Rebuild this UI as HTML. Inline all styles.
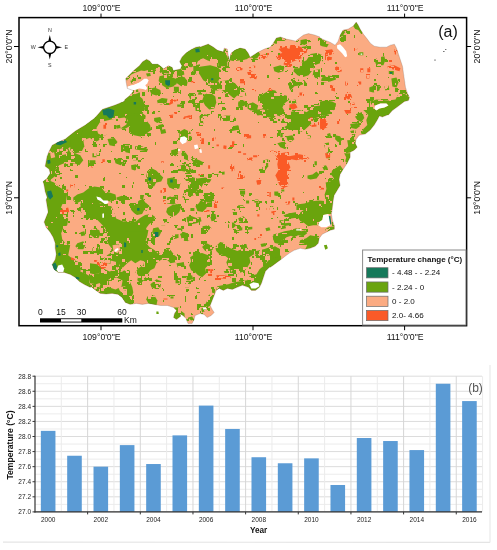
<!DOCTYPE html>
<html><head><meta charset="utf-8"><title>Temperature change</title>
<style>
html,body{margin:0;padding:0;background:#fff;}
svg{display:block;font-family:"Liberation Sans",sans-serif;}
</style></head><body>
<svg width="497" height="550" viewBox="0 0 497 550">
<rect width="497" height="550" fill="#fff"/>
<g id="map" shape-rendering="geometricPrecision">
<defs><clipPath id="isl"><polygon points="231.1,53.1 235.1,50.1 240.1,48.1 245.2,49.1 248.2,53.1 250.2,57.2 253.2,55.2 258.2,52.1 264.3,49.1 270.3,47.1 273.3,43.1 276.3,38.0 280.4,37.0 286.4,39.1 291.4,40.1 295.5,41.1 299.5,38.0 303.5,35.0 308.5,33.6 314.6,35.0 320.0,37.0 320.0,38.1 325.0,40.2 330.1,42.2 335.1,45.2 338.1,41.2 340.1,35.1 343.1,30.1 348.2,29.1 353.2,26.1 356.2,22.0 358.2,25.1 360.2,29.1 363.3,34.1 367.3,39.1 370.3,43.2 374.3,46.2 380.4,47.2 386.4,47.2 390.4,45.2 394.4,44.2 396.5,48.2 398.5,54.2 400.5,60.3 402.5,66.3 403.5,73.4 404.5,80.4 405.5,87.4 407.5,93.5 409.5,97.5 408.5,100.5 404.5,101.5 400.5,104.5 396.5,107.6 392.4,110.6 388.4,115.0 387.4,115.0 382.4,117.0 379.4,116.0 377.3,120.1 374.3,125.1 370.3,130.1 365.3,134.1 359.2,135.2 356.2,139.2 355.2,143.2 357.2,147.2 354.2,150.2 350.2,152.3 350.2,157.3 347.2,163.3 343.1,169.4 340.1,174.4 339.1,179.4 340.1,185.5 337.1,190.5 334.1,195.5 333.1,201.5 332.1,210.0 331.4,214.1 332.4,220.1 334.4,226.2 334.4,229.2 330.4,230.2 326.3,232.2 322.3,234.2 319.3,238.2 318.3,243.3 315.3,246.3 310.2,248.3 305.2,249.3 300.2,248.3 294.1,250.3 289.1,253.3 285.1,256.3 281.1,259.4 277.0,262.4 273.0,265.4 270.0,267.4 269.5,267.2 265.5,271.2 263.5,277.3 261.5,283.3 259.5,287.3 255.5,290.4 251.4,290.4 248.4,287.3 242.4,285.3 237.3,287.3 232.3,289.4 227.3,288.4 223.3,290.4 219.2,288.4 216.2,290.4 214.2,295.4 212.2,300.4 210.2,305.5 212.2,309.5 214.2,312.5 211.2,315.5 207.2,317.5 204.1,314.5 200.1,313.5 195.1,315.5 194.1,319.5 192.1,323.6 188.0,323.6 186.0,318.5 183.0,315.5 180.0,313.5 180.5,316.5 176.5,319.5 173.5,317.5 174.5,313.5 176.5,310.5 173.5,307.5 167.5,305.5 160.4,305.5 154.4,304.4 148.4,303.4 142.3,304.4 136.3,303.4 130.2,304.4 125.2,302.4 122.2,297.4 118.2,294.4 112.1,293.4 106.1,294.0 100.1,293.4 96.0,290.4 92.0,287.3 90.0,286.3 90.4,287.5 84.3,284.5 79.3,281.5 75.3,277.5 70.2,274.4 64.2,272.4 58.2,272.4 54.1,269.4 52.1,264.4 55.2,259.4 56.2,254.3 55.2,248.3 55.2,243.3 53.1,237.2 50.1,232.2 46.1,227.2 44.1,222.1 46.1,217.1 48.1,212.1 47.1,206.0 46.1,200.0 47.1,197.5 45.1,191.4 44.1,185.4 43.1,181.4 47.1,178.4 50.1,173.3 49.1,169.3 45.1,166.3 46.1,161.2 47.1,156.2 49.1,151.2 52.1,145.2 58.2,142.1 65.2,139.1 70.2,135.1 75.3,131.1 80.3,128.0 85.3,125.0 89.4,122.0 94.3,118.4 102.4,109.3 114.4,105.3 124.5,101.2 124.8,99.6 129.7,95.6 133.7,90.7 127.2,88.3 126.4,83.5 125.6,78.6 129.7,74.6 134.5,69.8 139.3,65.8 142.5,61.7 146.6,59.3 149.8,60.9 152.2,64.2 157.8,64.2 161.1,66.6 163.5,69.0 168.3,65.8 172.3,67.4 173.1,70.6 180.4,69.0 182.0,65.8 179.6,61.7 182.0,56.9 186.0,52.9 190.9,49.7 195.7,47.2 200.0,46.4 200.2,47.1 208.2,44.1 213.3,47.1 217.3,50.1 223.3,52.1 224.3,48.1 227.3,49.1 228.4,56.2 229.4,60.2"/></clipPath><filter id="soft" x="0" y="0" width="497" height="350" filterUnits="userSpaceOnUse"><feGaussianBlur stdDeviation="0.45"/></filter></defs>
<g filter="url(#soft)">
<polygon points="231.1,53.1 235.1,50.1 240.1,48.1 245.2,49.1 248.2,53.1 250.2,57.2 253.2,55.2 258.2,52.1 264.3,49.1 270.3,47.1 273.3,43.1 276.3,38.0 280.4,37.0 286.4,39.1 291.4,40.1 295.5,41.1 299.5,38.0 303.5,35.0 308.5,33.6 314.6,35.0 320.0,37.0 320.0,38.1 325.0,40.2 330.1,42.2 335.1,45.2 338.1,41.2 340.1,35.1 343.1,30.1 348.2,29.1 353.2,26.1 356.2,22.0 358.2,25.1 360.2,29.1 363.3,34.1 367.3,39.1 370.3,43.2 374.3,46.2 380.4,47.2 386.4,47.2 390.4,45.2 394.4,44.2 396.5,48.2 398.5,54.2 400.5,60.3 402.5,66.3 403.5,73.4 404.5,80.4 405.5,87.4 407.5,93.5 409.5,97.5 408.5,100.5 404.5,101.5 400.5,104.5 396.5,107.6 392.4,110.6 388.4,115.0 387.4,115.0 382.4,117.0 379.4,116.0 377.3,120.1 374.3,125.1 370.3,130.1 365.3,134.1 359.2,135.2 356.2,139.2 355.2,143.2 357.2,147.2 354.2,150.2 350.2,152.3 350.2,157.3 347.2,163.3 343.1,169.4 340.1,174.4 339.1,179.4 340.1,185.5 337.1,190.5 334.1,195.5 333.1,201.5 332.1,210.0 331.4,214.1 332.4,220.1 334.4,226.2 334.4,229.2 330.4,230.2 326.3,232.2 322.3,234.2 319.3,238.2 318.3,243.3 315.3,246.3 310.2,248.3 305.2,249.3 300.2,248.3 294.1,250.3 289.1,253.3 285.1,256.3 281.1,259.4 277.0,262.4 273.0,265.4 270.0,267.4 269.5,267.2 265.5,271.2 263.5,277.3 261.5,283.3 259.5,287.3 255.5,290.4 251.4,290.4 248.4,287.3 242.4,285.3 237.3,287.3 232.3,289.4 227.3,288.4 223.3,290.4 219.2,288.4 216.2,290.4 214.2,295.4 212.2,300.4 210.2,305.5 212.2,309.5 214.2,312.5 211.2,315.5 207.2,317.5 204.1,314.5 200.1,313.5 195.1,315.5 194.1,319.5 192.1,323.6 188.0,323.6 186.0,318.5 183.0,315.5 180.0,313.5 180.5,316.5 176.5,319.5 173.5,317.5 174.5,313.5 176.5,310.5 173.5,307.5 167.5,305.5 160.4,305.5 154.4,304.4 148.4,303.4 142.3,304.4 136.3,303.4 130.2,304.4 125.2,302.4 122.2,297.4 118.2,294.4 112.1,293.4 106.1,294.0 100.1,293.4 96.0,290.4 92.0,287.3 90.0,286.3 90.4,287.5 84.3,284.5 79.3,281.5 75.3,277.5 70.2,274.4 64.2,272.4 58.2,272.4 54.1,269.4 52.1,264.4 55.2,259.4 56.2,254.3 55.2,248.3 55.2,243.3 53.1,237.2 50.1,232.2 46.1,227.2 44.1,222.1 46.1,217.1 48.1,212.1 47.1,206.0 46.1,200.0 47.1,197.5 45.1,191.4 44.1,185.4 43.1,181.4 47.1,178.4 50.1,173.3 49.1,169.3 45.1,166.3 46.1,161.2 47.1,156.2 49.1,151.2 52.1,145.2 58.2,142.1 65.2,139.1 70.2,135.1 75.3,131.1 80.3,128.0 85.3,125.0 89.4,122.0 94.3,118.4 102.4,109.3 114.4,105.3 124.5,101.2 124.8,99.6 129.7,95.6 133.7,90.7 127.2,88.3 126.4,83.5 125.6,78.6 129.7,74.6 134.5,69.8 139.3,65.8 142.5,61.7 146.6,59.3 149.8,60.9 152.2,64.2 157.8,64.2 161.1,66.6 163.5,69.0 168.3,65.8 172.3,67.4 173.1,70.6 180.4,69.0 182.0,65.8 179.6,61.7 182.0,56.9 186.0,52.9 190.9,49.7 195.7,47.2 200.0,46.4 200.2,47.1 208.2,44.1 213.3,47.1 217.3,50.1 223.3,52.1 224.3,48.1 227.3,49.1 228.4,56.2 229.4,60.2" fill="#fbab82"/>
<g clip-path="url(#isl)">
<polygon points="220.0,51.1 224.0,49.1 227.0,52.1 226.0,58.2 229.1,60.2 224.0,63.2 220.0,62.2" fill="#6aa40f"/>
<polygon points="229.1,57.2 231.1,53.1 235.1,50.1 240.1,48.1 245.2,49.1 248.2,53.1 250.2,57.2 247.2,58.2 242.1,60.2 236.1,59.2 232.1,60.2" fill="#6aa40f"/>
<polygon points="252.2,56.2 258.2,52.1 260.2,54.1 257.2,58.2 253.2,59.2" fill="#6aa40f"/>
<polygon points="273.3,43.1 276.3,38.0 280.4,37.0 286.4,39.1 284.4,41.1 279.4,41.1 276.3,44.1" fill="#6aa40f"/>
<polygon points="273.3,67.2 280.4,65.2 284.4,67.2 283.4,71.2 278.4,72.7 274.3,71.2" fill="#6aa40f"/>
<polygon points="300.5,63.2 306.5,60.2 310.5,54.1 316.6,53.1 320.0,54.1 320.0,63.2 314.6,65.2 312.6,70.2 308.5,75.3 302.5,77.3 297.5,75.3 293.4,71.2 294.4,68.2 299.5,68.2" fill="#6aa40f"/>
<polygon points="313.6,70.2 320.0,69.2 320.0,77.3 315.6,78.3 312.6,75.3" fill="#6aa40f"/>
<polygon points="300.5,40.1 306.5,39.1 308.5,43.1 304.5,45.1 300.5,44.1" fill="#6aa40f"/>
<polygon points="301.5,47.1 306.5,46.1 307.5,50.1 302.5,50.1" fill="#6aa40f"/>
<polygon points="289.4,81.3 296.5,79.3 304.5,80.3 306.5,83.3 300.5,85.3 294.4,86.3 290.4,90.4 288.4,86.3" fill="#6aa40f"/>
<polygon points="220.0,81.3 228.0,80.3 235.1,83.3 238.1,87.3 243.1,90.4 246.2,93.4 242.1,96.4 237.1,95.4 234.1,98.4 229.1,94.4 227.0,90.4 222.0,90.4 220.0,88.4" fill="#6aa40f"/>
<polygon points="260.2,96.4 265.3,93.4 269.3,89.4 275.3,90.4 278.4,94.4 286.4,95.4 289.4,99.4 284.4,103.4 282.4,107.5 285.4,112.5 280.4,116.5 274.3,114.5 269.3,110.5 264.3,106.5 261.2,101.4" fill="#6aa40f"/>
<polygon points="247.2,104.4 253.2,102.4 258.2,105.5 257.2,109.5 263.3,109.5 270.3,111.5 276.3,115.5 273.3,118.5 265.3,116.5 259.2,114.5 255.2,111.5 250.2,109.5" fill="#6aa40f"/>
<polygon points="238.1,102.4 244.1,100.4 246.2,104.4 241.1,107.5 238.1,106.5" fill="#6aa40f"/>
<polygon points="282.4,116.5 289.4,112.5 296.5,114.5 299.5,110.5 306.5,112.5 312.6,106.5 320.0,105.5 320.0,116.5 314.6,118.5 310.5,124.6 304.5,130.0 288.4,130.0 289.4,123.6 284.4,120.5" fill="#6aa40f"/>
<polygon points="220.0,116.5 226.0,115.5 234.1,116.5 235.1,119.5 228.0,120.5 220.0,120.5" fill="#6aa40f"/>
<polygon points="230.1,126.6 238.1,125.6 239.1,130.0 230.1,130.0" fill="#6aa40f"/>
<polygon points="290.4,100.4 295.5,99.4 296.5,103.4 291.4,103.4" fill="#6aa40f"/>
<polygon points="353.2,26.1 356.2,22.0 358.2,25.1 360.2,29.1 363.3,34.1 361.2,34.1 358.2,30.1 355.2,29.1" fill="#6aa40f"/>
<polygon points="340.1,35.1 343.1,30.1 345.2,32.1 342.1,37.1" fill="#6aa40f"/>
<polygon points="320.0,39.1 325.0,40.8 329.1,43.2 327.0,47.2 322.0,46.2 320.0,45.2" fill="#6aa40f"/>
<polygon points="375.3,59.3 379.4,57.3 384.4,56.2 385.4,60.3 383.4,65.3 378.4,65.3 375.3,63.3" fill="#6aa40f"/>
<polygon points="322.0,77.4 328.0,75.4 335.1,76.4 336.1,79.4 330.1,81.4 324.0,82.4 321.0,80.4" fill="#6aa40f"/>
<polygon points="320.0,101.5 326.0,100.5 332.1,101.5 336.1,103.5 335.1,109.6 330.1,111.6 326.0,115.0 320.0,115.0" fill="#6aa40f"/>
<polygon points="391.4,78.4 396.5,77.4 398.5,82.4 396.5,87.4 392.4,86.4" fill="#6aa40f"/>
<polygon points="369.3,87.4 374.3,85.4 380.4,86.4 379.4,90.5 373.3,92.5 369.3,91.5" fill="#6aa40f"/>
<polygon points="397.5,95.5 404.5,93.5 409.5,97.5 408.5,100.5 404.5,101.5 400.5,104.5 396.5,107.6 392.4,110.6 388.4,115.0 370.3,115.0 371.3,109.6 374.3,108.6 376.3,110.6 379.4,108.6 384.4,107.6 388.4,105.5 386.4,103.5 380.4,103.5 375.3,105.5 371.3,104.5 370.3,101.5 376.3,99.5 388.4,100.5 395.5,99.5" fill="#6aa40f"/>
<polygon points="359.2,52.2 363.3,52.2 363.3,55.2 359.2,55.2" fill="#6aa40f"/>
<polygon points="320.0,54.2 323.0,55.2 323.0,61.3 320.0,61.3" fill="#6aa40f"/>
<polygon points="384.4,86.4 388.4,85.4 389.4,89.4 385.4,90.5" fill="#6aa40f"/>
<polygon points="388.8,70.9 393.8,70.9 393.8,74.8 388.8,74.8" fill="#6aa40f"/>
<polygon points="363.3,110.0 391.4,110.0 387.4,115.0 382.4,117.0 379.4,116.0 377.3,120.1 374.3,125.1 370.3,130.1 365.3,134.1 361.2,134.1 363.3,129.1 367.3,125.1 366.3,120.1 368.3,115.0" fill="#6aa40f"/>
<polygon points="356.2,114.0 362.3,112.0 364.3,118.0 361.2,122.1 357.2,120.1 355.2,117.0" fill="#6aa40f"/>
<polygon points="350.2,124.1 357.2,123.1 360.2,126.1 356.2,129.1 351.2,128.1" fill="#6aa40f"/>
<polygon points="347.2,140.2 355.2,139.8 356.2,143.2 357.2,147.2 354.2,150.2 350.2,152.3 346.2,153.3 345.2,149.2 348.2,146.2" fill="#6aa40f"/>
<polygon points="344.1,153.3 350.2,153.3 350.2,157.3 347.2,163.3 345.2,161.3 346.2,157.3" fill="#6aa40f"/>
<polygon points="335.1,168.4 340.1,165.3 343.1,169.4 340.1,174.4 339.1,179.4 340.1,185.5 337.1,190.5 334.1,195.5 333.1,201.5 332.1,210.0 320.0,210.0 322.0,204.6 326.0,199.5 327.0,190.5 326.0,184.4 330.1,181.4 334.1,178.4 331.1,174.4 332.1,170.4" fill="#6aa40f"/>
<polygon points="335.1,135.2 340.1,136.2 342.1,140.2 338.1,142.2 335.1,139.2" fill="#6aa40f"/>
<polygon points="324.0,144.2 328.0,143.2 329.1,147.2 325.0,148.2" fill="#6aa40f"/>
<polygon points="322.0,166.3 326.0,165.3 328.0,168.4 324.0,170.4" fill="#6aa40f"/>
<polygon points="320.0,110.0 330.1,110.0 329.1,114.0 324.0,116.0 320.0,115.0" fill="#6aa40f"/>
<polygon points="350.2,131.1 355.2,130.1 356.2,134.1 352.2,135.2" fill="#6aa40f"/>
<polygon points="327.0,134.1 330.1,133.1 331.1,136.2 328.0,137.2" fill="#6aa40f"/>
<polygon points="297.2,215.1 302.2,211.1 307.2,208.0 313.3,205.0 320.3,204.0 326.3,200.0 330.4,200.0 330.4,208.0 331.4,214.1 328.4,214.1 323.3,215.1 322.3,220.1 319.3,222.1 318.3,225.2 313.3,225.2 308.2,226.2 304.2,223.1 300.2,221.1 298.2,218.1" fill="#6aa40f"/>
<polygon points="285.1,215.1 290.1,213.1 297.2,215.1 298.2,218.1 294.1,218.1 289.1,217.1" fill="#6aa40f"/>
<polygon points="328.4,227.2 334.4,226.2 334.4,229.2 330.4,230.2 326.3,232.2 325.3,229.2" fill="#6aa40f"/>
<polygon points="300.2,240.2 306.2,238.2 310.2,235.2 315.3,236.2 319.3,238.2 318.3,243.3 315.3,246.3 310.2,248.3 305.2,249.3 307.2,245.3 303.2,243.3 299.2,243.3" fill="#6aa40f"/>
<polygon points="290.1,230.2 296.2,228.2 301.2,231.2 305.2,230.2 307.2,233.2 303.2,236.2 298.2,235.2 294.1,237.2 290.1,235.2" fill="#6aa40f"/>
<polygon points="273.0,237.2 278.0,234.2 282.1,237.2 281.1,241.2 277.0,243.3 274.0,241.2" fill="#6aa40f"/>
<polygon points="270.0,248.3 275.0,246.3 280.1,249.3 278.0,253.3 281.1,256.3 281.1,259.4 277.0,262.4 273.0,265.4 270.0,267.4" fill="#6aa40f"/>
<polygon points="309.2,200.0 313.3,200.0 313.3,204.0 309.2,205.0" fill="#6aa40f"/>
<polygon points="270.0,207.0 273.0,206.0 274.0,209.1 271.0,210.1" fill="#6aa40f"/>
<polygon points="280.1,226.2 285.1,225.2 286.1,228.2 281.1,229.2" fill="#6aa40f"/>
<polygon points="190.1,257.2 195.1,254.1 202.1,253.1 208.2,255.2 210.2,259.2 208.2,265.2 205.2,268.2 206.2,273.3 202.1,277.3 198.1,275.3 195.1,272.3 191.1,270.2 189.1,265.2 191.1,261.2" fill="#6aa40f"/>
<polygon points="215.2,247.1 220.2,242.1 224.3,243.1 227.3,247.1 232.3,249.1 237.3,251.1 244.4,248.1 249.4,250.1 256.5,251.1 264.5,249.1 270.5,247.1 276.6,248.1 280.0,249.1 280.0,256.2 274.6,258.2 270.5,255.2 264.5,256.2 259.5,256.2 254.4,254.1 249.4,257.2 250.4,262.2 247.4,267.2 244.4,271.2 238.4,273.3 233.3,271.2 228.3,267.2 226.3,262.2 228.3,258.2 224.3,255.2 219.2,254.1 216.2,251.1" fill="#6aa40f"/>
<polygon points="202.1,247.1 206.2,243.1 210.2,245.1 213.2,249.1 210.2,252.1 205.2,251.1" fill="#6aa40f"/>
<polygon points="216.2,290.4 219.2,288.4 223.3,290.4 227.3,288.4 232.3,289.4 237.3,287.3 242.4,285.3 248.4,287.3 251.4,290.4 255.5,290.4 259.5,287.3 261.5,283.3 263.5,277.3 265.5,271.2 269.5,267.2 274.6,263.2 280.0,259.2 280.0,256.2 274.6,258.2 268.5,260.2 264.5,265.2 259.5,269.2 256.5,274.3 249.4,276.3 247.4,280.3 240.4,281.3 234.3,282.3 228.3,284.3 222.3,285.3 217.2,286.3" fill="#6aa40f"/>
<polygon points="207.2,296.4 212.2,292.4 215.2,290.4 214.2,295.4 212.2,300.4 210.2,305.5 207.2,307.5 205.2,304.4 207.2,300.4" fill="#6aa40f"/>
<polygon points="201.1,308.5 205.2,307.5 206.2,310.5 202.1,312.5" fill="#6aa40f"/>
<polygon points="180.0,234.0 184.0,232.0 189.1,234.0 190.1,239.1 186.0,241.1 182.0,239.1" fill="#6aa40f"/>
<polygon points="272.6,236.0 280.0,234.0 280.0,244.1 274.6,243.1" fill="#6aa40f"/>
<polygon points="260.5,244.1 265.5,243.1 266.5,246.1 261.5,247.1" fill="#6aa40f"/>
<polygon points="242.4,244.1 246.4,244.1 247.4,248.1 243.4,249.1" fill="#6aa40f"/>
<polygon points="187.0,276.3 192.1,275.3 193.1,279.3 188.0,280.3" fill="#6aa40f"/>
<polygon points="180.0,311.5 183.0,315.5 180.0,316.5" fill="#6aa40f"/>
<polygon points="188.0,317.5 192.1,316.5 194.1,319.5 191.1,320.5" fill="#6aa40f"/>
<polygon points="185.0,283.3 189.1,282.7 189.1,287.3 185.0,287.3" fill="#6aa40f"/>
<polygon points="180.0,263.2 184.0,262.2 184.0,266.2 180.0,266.2" fill="#6aa40f"/>
<polygon points="223.3,270.2 230.3,269.2 232.3,273.3 225.3,274.3" fill="#6aa40f"/>
<polygon points="105.1,230.0 148.4,230.0 147.3,236.0 145.3,242.1 149.4,247.1 154.4,250.1 158.4,254.1 162.4,252.1 167.5,249.1 170.5,250.1 174.5,255.2 178.5,258.2 175.5,262.2 170.5,263.2 167.5,260.2 164.4,258.2 160.4,260.2 156.4,263.2 154.4,268.2 150.4,270.2 146.3,276.3 144.3,280.3 140.3,283.3 137.3,280.3 138.3,275.3 135.3,272.3 138.3,268.2 143.3,265.2 144.3,261.2 140.3,260.2 135.3,263.2 131.2,260.2 127.2,263.2 123.2,267.2 118.2,268.2 114.1,265.2 109.1,263.2 104.1,260.2 107.1,255.2 112.1,252.1 116.2,250.1 120.2,247.1 118.2,242.1 113.1,240.1 109.1,236.0" fill="#6aa40f"/>
<polygon points="90.0,265.2 94.0,266.2 98.0,270.2 102.1,273.3 107.1,275.3 112.1,273.3 116.2,276.3 120.2,273.3 124.2,270.2 128.2,273.3 127.2,278.3 130.2,282.3 132.3,287.3 133.3,292.4 131.2,298.4 130.2,304.4 125.2,302.4 122.2,297.4 118.2,294.4 112.1,293.4 106.1,294.0 100.1,293.4 96.0,290.4 92.0,287.3 90.0,286.3" fill="#6aa40f"/>
<polygon points="93.0,247.1 98.0,247.1 99.1,252.1 94.0,253.1" fill="#6aa40f"/>
<polygon points="150.4,284.3 156.4,279.3 161.4,281.3 160.4,287.3 154.4,288.4 151.4,287.3" fill="#6aa40f"/>
<polygon points="147.3,296.4 154.4,295.4 157.4,300.4 156.4,305.5 148.4,303.4 146.3,299.4" fill="#6aa40f"/>
<polygon points="174.5,235.0 178.5,234.0 178.5,238.0 174.5,238.0" fill="#6aa40f"/>
<polygon points="181.5,234.0 190.0,233.0 190.0,240.1 184.6,241.1 181.5,238.0" fill="#6aa40f"/>
<polygon points="175.5,279.3 179.5,279.3 179.5,283.3 175.5,283.3" fill="#6aa40f"/>
<polygon points="186.6,276.3 190.0,276.3 190.0,280.3 186.6,280.3" fill="#6aa40f"/>
<polygon points="173.5,307.5 176.5,310.5 174.5,313.5 173.5,317.5 176.5,319.5 180.5,316.5 184.6,319.5 184.6,313.5 180.5,310.5 178.5,307.5" fill="#6aa40f"/>
<polygon points="170.5,296.4 173.5,296.4 173.5,298.4 170.5,298.4" fill="#6aa40f"/>
<polygon points="90.0,230.0 96.0,230.0 97.0,234.0 93.0,236.0 90.0,235.0" fill="#6aa40f"/>
<polygon points="176.5,263.2 183.6,262.2 184.6,266.2 177.5,267.2" fill="#6aa40f"/>
<polygon points="46.1,200.0 62.2,200.0 60.2,205.0 58.2,209.1 60.2,213.1 65.2,215.1 68.2,219.1 67.2,225.2 63.2,228.2 61.2,233.2 62.2,239.2 65.2,243.3 70.2,245.3 69.2,250.3 68.2,255.3 73.3,259.4 79.3,262.4 80.3,267.4 84.3,269.4 90.4,267.4 96.4,269.4 98.4,275.5 100.4,280.5 99.4,286.5 96.4,291.5 90.4,287.5 84.3,284.5 79.3,281.5 75.3,277.5 70.2,274.4 64.2,272.4 58.2,272.4 54.1,269.4 52.1,264.4 55.2,259.4 56.2,254.3 55.2,248.3 55.2,243.3 53.1,237.2 50.1,232.2 46.1,227.2 44.1,222.1 46.1,217.1 48.1,212.1 47.1,206.0" fill="#6aa40f"/>
<polygon points="83.3,200.0 96.4,200.0 100.4,204.0 106.5,207.0 114.5,206.0 120.5,208.0 130.0,207.0 130.0,260.4 124.6,264.4 118.5,262.4 114.5,258.4 110.5,254.3 111.5,248.3 108.5,244.3 106.5,239.2 107.5,232.2 104.4,227.2 100.4,223.1 96.4,219.1 90.4,216.1 85.3,213.1 81.3,209.1 80.3,204.0" fill="#6aa40f"/>
<polygon points="90.4,230.2 94.4,228.2 99.4,230.2 100.4,234.2 98.4,238.2 93.4,237.2 90.4,234.2" fill="#6aa40f"/>
<polygon points="77.3,243.3 83.3,241.2 85.3,245.3 83.3,249.3 78.3,249.3 75.3,246.3" fill="#6aa40f"/>
<polygon points="92.4,248.3 97.4,247.3 99.4,251.3 96.4,253.3 92.4,252.3" fill="#6aa40f"/>
<polygon points="96.4,269.4 103.4,268.4 109.5,271.4 116.5,269.4 122.6,272.4 130.0,270.4 130.0,284.5 124.6,286.5 119.5,289.5 114.5,291.5 110.5,288.5 106.5,289.5 102.4,292.6 98.4,290.5 99.4,286.5 100.4,280.5 98.4,275.5" fill="#6aa40f"/>
<polygon points="104.4,257.3 110.5,256.3 114.5,258.4 113.5,262.4 107.5,263.4" fill="#6aa40f"/>
<polygon points="80.3,232.2 84.3,231.2 85.3,235.2 81.3,236.2" fill="#6aa40f"/>
<polygon points="118.5,291.5 130.0,288.5 130.0,300.0 120.5,300.0 118.5,296.6" fill="#6aa40f"/>
<polygon points="92.4,117.0 130.0,117.0 130.0,126.0 124.6,129.1 118.5,128.0 114.5,132.1 109.5,131.1 106.5,135.1 100.4,136.1 96.4,140.1 91.4,139.1 87.3,136.1 82.3,139.1 78.3,143.1 73.3,145.2 68.2,148.2 70.2,152.2 75.3,153.2 80.3,155.2 83.3,160.2 79.3,165.3 74.3,163.3 69.2,165.3 64.2,163.3 59.2,165.3 55.2,170.3 56.2,175.3 52.1,178.4 49.1,180.4 43.1,181.4 47.1,178.4 50.1,173.3 49.1,169.3 45.1,166.3 46.1,161.2 47.1,156.2 49.1,151.2 52.1,145.2 58.2,142.1 65.2,139.1 70.2,135.1 75.3,131.1 80.3,128.0 85.3,125.0 89.4,122.0" fill="#6aa40f"/>
<polygon points="43.1,181.4 49.1,180.4 54.1,182.4 58.2,186.4 63.2,189.4 67.2,193.4 66.2,200.5 62.2,204.5 60.2,209.5 63.2,214.6 62.2,220.0 46.1,220.0 48.1,214.6 49.1,208.5 49.1,202.5 47.1,197.5 45.1,191.4 44.1,185.4" fill="#6aa40f"/>
<polygon points="73.3,197.5 77.3,194.4 83.3,192.4 88.4,188.4 94.4,186.4 101.4,187.4 104.4,191.4 109.5,192.4 115.5,194.4 116.5,199.5 112.5,202.5 107.5,200.5 103.4,204.5 97.4,202.5 90.4,203.5 84.3,200.5 80.3,201.5 76.3,203.5 73.3,200.5" fill="#6aa40f"/>
<polygon points="80.3,206.5 88.4,204.5 98.4,206.5 105.5,205.5 112.5,206.5 114.5,211.5 109.5,214.6 102.4,216.6 99.4,220.0 83.3,220.0 84.3,214.6 80.3,211.5" fill="#6aa40f"/>
<polygon points="116.5,197.5 122.6,195.5 130.0,196.5 130.0,204.5 124.6,205.5 118.5,203.5" fill="#6aa40f"/>
<polygon points="107.5,139.1 114.5,138.1 117.5,142.1 114.5,146.2 109.5,145.2" fill="#6aa40f"/>
<polygon points="114.5,159.2 120.5,158.2 124.6,162.3 120.5,165.3 115.5,163.3" fill="#6aa40f"/>
<polygon points="122.6,146.2 130.0,145.2 130.0,153.2 125.6,152.2" fill="#6aa40f"/>
<polygon points="89.4,160.2 95.4,160.2 95.4,163.3 89.4,163.3" fill="#6aa40f"/>
<polygon points="92.4,153.2 96.4,153.2 96.4,157.2 92.4,157.2" fill="#6aa40f"/>
<polygon points="86.3,124.4 94.3,118.4 102.4,109.3 114.4,105.3 124.5,101.2 132.6,95.2 140.0,92.2 140.0,103.3 134.6,106.3 129.5,108.3 130.5,115.3 134.6,118.4 140.0,120.4 140.0,126.4 128.5,120.4 124.5,117.3 116.5,119.4 108.4,118.4 100.4,120.4 97.3,125.4 98.4,130.4 94.3,132.4 90.3,137.5 83.3,140.5 80.2,136.5 83.3,129.4" fill="#6aa40f"/>
<polygon points="125.6,78.6 129.7,74.6 134.5,69.8 139.3,65.8 142.5,61.7 146.6,59.3 149.8,60.9 152.2,64.2 157.8,64.2 161.1,66.6 163.5,69.0 168.3,65.8 172.3,67.4 173.1,70.6 180.4,69.0 183.6,70.6 184.4,74.6 179.6,76.2 175.6,74.6 171.5,73.0 168.3,72.2 163.5,71.4 160.3,73.0 158.6,70.6 154.6,69.0 151.4,70.6 149.0,73.0 145.8,74.6 144.2,77.8 141.7,80.3 137.7,81.9 136.1,78.6 132.9,77.0 129.7,78.6 127.2,81.1" fill="#6aa40f"/>
<polygon points="159.5,76.2 166.7,74.6 173.1,77.8 178.0,79.5 176.4,84.3 171.5,86.7 166.7,88.3 161.9,85.1 158.6,81.1" fill="#6aa40f"/>
<polygon points="180.4,77.8 184.4,77.0 187.6,81.9 186.8,85.9 182.0,85.1 179.6,81.9" fill="#6aa40f"/>
<polygon points="149.0,89.1 154.6,87.5 160.3,89.9 161.1,93.9 156.2,95.6 151.4,93.9" fill="#6aa40f"/>
<polygon points="173.9,86.7 178.8,86.7 178.8,91.5 173.9,91.5" fill="#6aa40f"/>
<polygon points="157.0,100.4 161.9,98.0 167.5,98.8 166.7,102.8 161.1,104.4 157.8,103.6" fill="#6aa40f"/>
<polygon points="120.0,102.0 124.8,99.6 129.7,95.6 133.7,93.9 138.5,95.6 142.5,98.8 144.2,103.6 145.0,109.2 142.5,113.3 145.8,115.7 145.0,120.0 120.0,120.0" fill="#6aa40f"/>
<polygon points="179.6,61.7 182.0,56.9 186.0,52.9 190.9,49.7 195.7,47.2 200.0,46.4 200.0,60.1 196.5,61.7 192.5,64.2 189.2,62.5 186.0,64.2 183.6,68.2 180.4,69.0 182.0,65.8" fill="#6aa40f"/>
<polygon points="193.3,65.8 200.0,64.2 200.0,72.2 196.5,74.6 193.3,72.2" fill="#6aa40f"/>
<polygon points="189.2,93.9 193.3,93.9 193.3,97.2 189.2,97.2" fill="#6aa40f"/>
<polygon points="194.9,104.4 200.0,103.6 200.0,110.9 195.7,110.9" fill="#6aa40f"/>
<polygon points="177.2,104.4 182.0,104.4 182.0,106.8 177.2,106.8" fill="#6aa40f"/>
<polygon points="127.2,83.5 132.1,82.2 135.3,83.2 129.7,85.9" fill="#6aa40f"/>
<polygon points="130.0,116.0 136.0,115.0 143.1,116.0 146.1,120.1 150.1,125.1 151.1,130.1 147.1,133.1 144.1,137.2 139.1,136.2 134.0,135.2 130.0,132.1" fill="#6aa40f"/>
<polygon points="130.0,110.0 144.1,110.0 142.1,113.0 135.0,114.0 130.0,113.0" fill="#6aa40f"/>
<polygon points="154.1,118.0 160.2,117.0 162.2,121.1 157.2,123.1 154.1,121.1" fill="#6aa40f"/>
<polygon points="160.2,130.1 165.2,129.1 166.2,133.1 161.2,134.1" fill="#6aa40f"/>
<polygon points="179.3,132.1 184.3,129.1 190.4,132.1 191.4,137.2 187.3,140.2 182.3,141.2 179.3,138.2" fill="#6aa40f"/>
<polygon points="171.2,150.2 175.3,149.2 178.3,153.3 175.3,156.3 171.2,154.3" fill="#6aa40f"/>
<polygon points="181.3,153.3 185.3,152.3 188.4,156.3 194.4,158.3 199.4,160.3 203.4,162.3 202.4,165.3 197.4,164.3 192.4,161.3 187.3,160.3 182.3,158.3" fill="#6aa40f"/>
<polygon points="178.3,166.3 184.3,164.3 189.4,167.3 192.4,170.4 189.4,173.4 184.3,171.4 179.3,170.4" fill="#6aa40f"/>
<polygon points="147.1,172.4 152.1,168.4 156.2,170.4 160.2,174.4 163.2,177.4 161.2,181.4 156.2,182.4 154.1,186.5 150.1,185.5 148.1,180.4 146.1,176.4" fill="#6aa40f"/>
<polygon points="167.2,178.4 172.3,177.4 177.3,179.4 180.3,183.4 179.3,188.5 174.3,189.5 169.2,187.5 167.2,183.4" fill="#6aa40f"/>
<polygon points="184.3,177.4 190.4,176.4 197.4,178.4 205.5,177.4 211.5,179.4 209.5,182.4 203.4,183.4 201.4,187.5 197.4,189.5 195.4,194.5 190.4,196.5 186.3,193.5 188.4,188.5 190.4,183.4 186.3,181.4" fill="#6aa40f"/>
<polygon points="132.0,210.0 135.0,204.6 139.1,200.5 143.1,198.5 145.1,202.6 149.1,205.6 150.1,210.0" fill="#6aa40f"/>
<polygon points="205.5,196.5 209.5,194.5 212.5,197.5 211.5,201.5 207.5,202.6 204.8,200.1" fill="#6aa40f"/>
<polygon points="164.2,198.5 170.2,196.5 175.3,198.5 177.3,202.6 173.3,204.6 167.2,203.6" fill="#6aa40f"/>
<polygon points="131.0,165.3 136.0,164.3 139.1,167.3 135.0,170.4 131.6,169.4" fill="#6aa40f"/>
<polygon points="135.0,146.2 142.1,146.2 148.1,149.2 147.1,151.2 140.1,150.2 135.0,149.2" fill="#6aa40f"/>
<polygon points="200.4,200.5 205.5,202.6 206.5,207.6 202.4,210.0 197.4,210.0 198.4,204.6" fill="#6aa40f"/>
<polygon points="133.0,157.3 138.0,157.3 138.0,160.3 133.0,160.3" fill="#6aa40f"/>
<polygon points="221.5,116.0 230.0,116.0 230.0,120.1 222.6,121.1" fill="#6aa40f"/>
<polygon points="218.5,172.4 224.6,171.4 224.6,174.4 218.5,174.8" fill="#6aa40f"/>
<polygon points="183.3,193.5 189.4,194.5 188.4,198.5 182.3,197.5" fill="#6aa40f"/>
<polygon points="199.4,116.0 202.4,116.0 203.4,124.1 200.4,125.1" fill="#6aa40f"/>
<polygon points="202.4,114.0 208.5,115.0 207.5,117.0 202.4,117.0" fill="#6aa40f"/>
<polygon points="158.2,125.1 163.2,124.1 163.2,127.1 158.2,127.7" fill="#6aa40f"/>
<polygon points="254.1,110.0 270.2,110.0 276.3,112.0 283.3,113.0 290.4,112.0 298.4,110.0 306.5,112.0 310.5,116.0 307.5,121.1 305.5,128.1 301.4,132.1 297.4,129.1 292.4,127.1 287.3,130.1 284.3,127.1 289.4,124.1 290.4,119.1 286.3,116.0 280.3,115.0 273.3,114.0 266.2,115.0 260.2,114.0 255.2,113.0" fill="#6aa40f"/>
<polygon points="312.5,110.0 330.0,110.0 330.0,114.0 322.6,115.0 316.5,114.0" fill="#6aa40f"/>
<polygon points="277.3,143.2 284.3,141.2 287.3,145.2 285.3,149.2 280.3,147.2" fill="#6aa40f"/>
<polygon points="286.3,136.2 292.4,135.2 294.4,139.2 290.4,142.2 287.3,140.2" fill="#6aa40f"/>
<polygon points="263.2,160.3 268.2,159.3 268.2,166.3 265.2,170.4 262.2,168.4" fill="#6aa40f"/>
<polygon points="307.5,175.4 312.5,174.4 316.5,171.4 319.5,174.4 316.5,178.4 310.5,179.4 307.5,178.4" fill="#6aa40f"/>
<polygon points="325.6,182.4 330.0,181.4 330.0,202.6 325.6,201.5 324.6,194.5 326.6,188.5" fill="#6aa40f"/>
<polygon points="296.4,204.6 304.4,203.6 310.5,201.5 318.5,200.5 330.0,201.5 330.0,210.0 296.4,210.0" fill="#6aa40f"/>
<polygon points="240.1,190.5 245.1,190.5 245.1,194.5 240.1,194.5" fill="#6aa40f"/>
<polygon points="231.0,127.1 236.0,126.1 237.0,130.1 232.0,131.1" fill="#6aa40f"/>
<polygon points="274.3,191.5 278.3,191.5 278.3,195.5 274.3,195.5" fill="#6aa40f"/>
<polygon points="324.6,143.2 330.0,142.2 330.0,147.2 325.6,147.2" fill="#6aa40f"/>
<polygon points="326.6,152.3 330.0,152.3 330.0,158.3 326.6,158.3" fill="#6aa40f"/>
<polygon points="281.3,189.5 284.3,189.5 284.3,191.5 281.3,191.5" fill="#6aa40f"/>
<polygon points="255.2,199.5 258.2,199.5 258.2,202.6 255.2,202.6" fill="#6aa40f"/>
<polygon points="246.1,200.5 249.1,200.5 249.1,203.6 246.1,203.6" fill="#6aa40f"/>
<polygon points="314.5,161.3 316.9,161.3 316.9,165.3 314.5,165.3" fill="#6aa40f"/>
<polygon points="307.5,135.2 310.5,135.2 310.5,138.2 307.5,138.2" fill="#6aa40f"/>
<polygon points="280.3,133.1 282.7,133.1 282.7,137.2 280.3,137.2" fill="#6aa40f"/>
<polygon points="125.0,223.2 130.0,222.2 136.1,221.2 140.1,218.1 145.1,215.1 151.2,214.1 155.2,217.1 153.2,221.2 149.1,224.2 146.1,228.2 147.1,231.2 125.0,231.2" fill="#6aa40f"/>
<polygon points="131.0,207.1 137.1,204.1 143.1,201.0 147.1,204.1 150.2,208.1 147.1,211.1 144.1,210.1 142.1,214.1 137.1,215.1 133.0,213.1 131.0,210.1" fill="#6aa40f"/>
<polygon points="167.3,208.1 172.3,205.1 177.3,204.1 181.3,207.1 179.3,212.1 176.3,215.1 172.3,217.1 168.3,215.1 166.2,212.1" fill="#6aa40f"/>
<polygon points="153.2,228.2 158.2,227.2 161.2,232.2 159.2,236.2 154.2,236.2 152.2,232.2" fill="#6aa40f"/>
<polygon points="186.4,217.1 191.4,216.1 196.4,218.1 200.5,217.1 201.5,221.2 196.4,223.2 191.4,224.2 187.4,222.2" fill="#6aa40f"/>
<polygon points="195.4,206.1 200.5,202.0 205.5,203.0 206.5,208.1 202.5,212.1 197.4,211.1" fill="#6aa40f"/>
<polygon points="205.5,197.0 210.5,195.0 213.5,199.0 210.5,203.0 206.5,202.0" fill="#6aa40f"/>
<polygon points="209.5,214.1 215.5,214.1 216.5,220.2 211.5,221.2" fill="#6aa40f"/>
<polygon points="202.5,226.2 208.5,225.2 211.5,228.2 206.5,231.2 202.5,230.2" fill="#6aa40f"/>
<polygon points="181.3,234.2 187.4,233.2 190.4,238.3 187.4,241.3 182.3,239.3" fill="#6aa40f"/>
<polygon points="177.3,228.2 182.3,228.2 182.3,231.2 177.3,231.2" fill="#6aa40f"/>
<polygon points="172.3,235.2 176.3,234.2 177.3,238.3 173.3,239.3" fill="#6aa40f"/>
<polygon points="125.0,200.0 128.0,200.0 128.0,205.1 125.0,205.1" fill="#6aa40f"/>
<polygon points="140.1,195.0 144.1,195.0 143.1,199.0 140.1,199.0" fill="#6aa40f"/>
<polygon points="168.3,198.0 176.3,196.0 177.3,199.0 170.3,201.0" fill="#6aa40f"/>
<polygon points="190.4,208.1 194.4,208.1 194.4,211.1 190.4,211.1" fill="#6aa40f"/>
<polygon points="161.2,222.2 165.2,222.2 165.2,225.2 161.2,225.2" fill="#6aa40f"/>
<polygon points="238.2,218.2 243.3,216.2 246.3,219.2 243.3,222.3 239.2,221.2" fill="#6aa40f"/>
<polygon points="228.2,224.3 233.2,222.3 236.2,225.3 233.2,228.3 229.2,227.3" fill="#6aa40f"/>
<polygon points="265.4,228.3 269.4,227.3 270.4,230.3 266.4,231.3" fill="#6aa40f"/>
<polygon points="273.4,234.3 278.5,233.3 284.5,231.3 290.5,230.3 300.0,228.3 300.0,234.3 292.6,235.3 286.5,237.3 282.5,240.4 277.5,242.4 273.4,239.4" fill="#6aa40f"/>
<polygon points="237.2,228.3 242.3,227.3 242.3,230.3 237.2,231.3" fill="#6aa40f"/>
<polygon points="246.3,227.3 252.3,226.7 252.3,229.3 246.3,229.9" fill="#6aa40f"/>
<polygon points="240.2,191.1 244.3,191.1 244.3,194.5 240.2,194.5" fill="#6aa40f"/>
<polygon points="232.2,209.2 235.2,209.2 235.2,212.2 232.2,212.2" fill="#6aa40f"/>
<polygon points="238.2,205.2 243.3,205.2 243.3,207.2 238.2,207.2" fill="#6aa40f"/>
<polygon points="283.5,215.2 289.5,213.2 295.6,212.2 300.0,213.2 300.0,217.2 292.6,218.2 286.5,219.2" fill="#6aa40f"/>
<polygon points="279.5,220.2 283.5,220.2 283.5,222.7 279.5,222.7" fill="#6aa40f"/>
<polygon points="284.5,223.3 289.5,222.7 289.5,225.3 284.5,225.9" fill="#6aa40f"/>
<polygon points="254.3,200.1 258.4,200.1 258.4,202.5 254.3,202.5" fill="#6aa40f"/>
<polygon points="275.5,193.1 278.1,193.1 278.1,195.7 275.5,195.7" fill="#6aa40f"/>
<polygon points="109.1,279.3 116.2,278.3 121.2,281.3 120.2,286.3 114.1,288.4 110.1,285.3" fill="#fbab82"/>
<polygon points="118.2,287.3 125.2,286.3 126.2,290.4 120.2,291.4" fill="#fbab82"/>
<polygon points="112.5,245.3 118.5,244.3 120.5,249.3 117.5,253.3 113.5,251.3" fill="#fbab82"/>
<polygon points="59.2,149.2 65.2,147.2 68.2,150.2 66.2,154.2 61.2,155.2" fill="#fbab82"/>
<polygon points="50.1,153.2 54.1,152.2 55.2,157.2 51.1,158.2" fill="#fbab82"/>
<polygon points="278.4,49.1 284.4,47.1 289.4,49.1 290.4,45.1 296.5,45.1 302.5,48.1 307.5,49.1 306.5,53.1 300.5,54.1 301.5,58.2 296.5,60.2 291.4,62.2 287.4,66.2 283.4,64.2 285.4,60.2 280.4,59.2 276.3,57.2 278.4,54.1 282.4,53.1" fill="#fa5a28"/>
<polygon points="260.2,55.2 267.3,54.1 267.3,57.2 261.2,57.8" fill="#fa5a28"/>
<polygon points="237.1,67.2 242.1,67.2 242.1,70.2 238.1,70.2" fill="#fa5a28"/>
<polygon points="247.2,72.3 252.2,71.2 253.2,75.3 257.2,76.3 256.2,79.3 250.2,78.3 248.2,75.3" fill="#fa5a28"/>
<polygon points="249.2,66.2 255.2,65.8 255.2,67.8 249.2,68.2" fill="#fa5a28"/>
<polygon points="289.4,104.4 295.5,103.4 297.5,107.5 293.4,109.5 289.4,108.5" fill="#fa5a28"/>
<polygon points="240.1,81.3 244.1,81.3 244.1,83.3 240.1,83.3" fill="#fa5a28"/>
<polygon points="268.3,89.4 272.3,89.4 272.3,91.0 268.3,91.0" fill="#fa5a28"/>
<polygon points="299.5,92.4 302.5,92.4 302.5,95.4 299.5,95.4" fill="#fa5a28"/>
<polygon points="308.5,118.5 311.5,117.5 312.6,120.5 309.5,121.5" fill="#fa5a28"/>
<polygon points="325.0,50.2 332.1,49.2 334.1,53.2 330.1,55.2 326.0,54.2" fill="#fa5a28"/>
<polygon points="327.0,56.2 332.1,57.3 331.1,61.3 327.0,60.3" fill="#fa5a28"/>
<polygon points="335.1,66.3 340.1,67.3 342.1,71.3 338.1,72.3 335.1,69.3" fill="#fa5a28"/>
<polygon points="387.4,66.3 394.4,65.3 400.5,68.3 399.5,71.3 392.4,69.3 388.4,70.3" fill="#fa5a28"/>
<polygon points="394.4,49.2 397.5,50.2 397.5,55.2 394.8,54.2" fill="#fa5a28"/>
<polygon points="345.2,94.5 350.2,92.5 352.2,97.5 348.2,99.5 345.2,97.5" fill="#fa5a28"/>
<polygon points="332.1,85.4 336.1,86.4 335.1,91.5 331.1,90.5" fill="#fa5a28"/>
<polygon points="355.2,45.2 357.2,45.2 357.2,49.2 355.2,49.2" fill="#fa5a28"/>
<polygon points="360.2,68.3 363.3,68.3 363.3,72.3 360.2,72.3" fill="#fa5a28"/>
<polygon points="367.3,68.3 370.3,68.3 370.3,72.3 367.3,72.3" fill="#fa5a28"/>
<polygon points="358.2,81.4 361.2,81.4 361.2,84.4 358.2,84.4" fill="#fa5a28"/>
<polygon points="345.2,81.4 347.2,81.4 347.2,85.4 345.2,85.4" fill="#fa5a28"/>
<polygon points="366.3,75.4 369.3,75.4 369.3,78.4 366.3,78.4" fill="#fa5a28"/>
<polygon points="389.4,61.3 390.8,61.3 390.8,64.3 389.4,64.3" fill="#fa5a28"/>
<polygon points="350.2,103.5 354.2,102.5 355.2,106.5 351.2,107.6" fill="#fa5a28"/>
<polygon points="320.0,118.0 325.0,119.1 328.0,124.1 325.0,128.1 321.0,130.1 320.0,128.1" fill="#fa5a28"/>
<polygon points="344.1,110.0 350.2,110.0 351.2,113.0 346.2,114.0" fill="#fa5a28"/>
<polygon points="325.0,153.3 330.1,153.3 330.1,157.3 326.0,158.3" fill="#fa5a28"/>
<polygon points="320.0,187.5 324.0,188.1 324.0,189.5 320.0,189.5" fill="#fa5a28"/>
<polygon points="337.1,121.1 339.1,121.1 339.1,124.1 337.1,124.1" fill="#fa5a28"/>
<polygon points="285.1,202.0 290.1,201.0 290.1,203.0 286.1,204.0" fill="#fa5a28"/>
<polygon points="273.0,212.1 274.4,212.1 274.4,215.1 273.0,215.1" fill="#fa5a28"/>
<polygon points="216.2,275.3 223.3,275.3 230.3,276.3 231.3,279.3 224.3,278.7 217.2,277.9" fill="#fa5a28"/>
<polygon points="210.2,269.2 213.2,269.2 213.2,273.3 210.2,273.3" fill="#fa5a28"/>
<polygon points="254.4,238.0 256.1,238.0 256.1,240.1 254.4,240.1" fill="#fa5a28"/>
<polygon points="259.5,236.0 261.1,236.0 261.1,237.6 259.5,237.6" fill="#fa5a28"/>
<polygon points="100.1,263.2 105.1,262.2 106.1,267.2 102.1,269.2 99.7,267.2" fill="#fa5a28"/>
<polygon points="163.4,298.4 167.5,298.4 167.5,299.6 163.4,299.6" fill="#fa5a28"/>
<polygon points="94.0,260.2 96.0,260.2 96.0,261.8 94.0,261.8" fill="#fa5a28"/>
<polygon points="60.2,209.1 67.2,208.0 69.2,212.1 64.2,214.1 60.2,213.1" fill="#fa5a28"/>
<polygon points="99.4,263.4 103.4,262.4 105.5,267.4 101.4,269.4 99.4,266.4" fill="#fa5a28"/>
<polygon points="71.2,257.3 74.3,258.4 73.3,260.4 70.8,259.4" fill="#fa5a28"/>
<polygon points="94.4,259.4 97.4,260.4 96.4,262.0 94.0,261.0" fill="#fa5a28"/>
<polygon points="60.2,209.5 68.2,207.5 69.2,211.5 63.2,214.6 60.2,213.6" fill="#fa5a28"/>
<polygon points="70.2,184.4 74.3,184.0 74.3,187.4 70.2,187.4" fill="#fa5a28"/>
<polygon points="103.4,126.0 106.5,126.0 106.5,129.1 103.4,129.1" fill="#fa5a28"/>
<polygon points="102.4,159.2 104.8,159.2 104.8,161.9 102.4,161.9" fill="#fa5a28"/>
<polygon points="66.2,189.4 68.2,189.4 68.2,191.4 66.2,191.4" fill="#fa5a28"/>
<polygon points="91.4,165.9 93.0,165.9 93.0,167.5 91.4,167.5" fill="#fa5a28"/>
<polygon points="102.4,125.4 106.4,125.4 106.4,126.4 105.0,126.4 105.0,129.4 103.8,129.4 103.8,126.4 102.4,126.4" fill="#fa5a28"/>
<polygon points="168.3,103.6 173.1,101.2 173.9,102.8 169.1,105.2" fill="#fa5a28"/>
<polygon points="173.9,100.4 176.4,99.6 176.7,100.9 174.4,101.7" fill="#fa5a28"/>
<polygon points="190.9,81.1 193.3,81.1 193.3,82.2 190.9,82.2" fill="#fa5a28"/>
<polygon points="187.6,115.7 190.9,115.4 190.9,116.7 187.6,117.0" fill="#fa5a28"/>
<polygon points="169.9,114.9 173.1,114.4 173.1,115.7 169.9,116.0" fill="#fa5a28"/>
<polygon points="201.4,138.2 204.0,138.2 204.0,142.2 201.4,142.2" fill="#fa5a28"/>
<polygon points="223.6,145.2 226.6,145.8 226.2,149.2 223.2,148.6" fill="#fa5a28"/>
<polygon points="216.5,144.6 218.9,144.6 218.9,146.2 216.5,146.2" fill="#fa5a28"/>
<polygon points="196.0,132.1 199.4,132.1 199.4,133.5 196.0,133.5" fill="#fa5a28"/>
<polygon points="187.3,116.0 190.4,116.0 190.4,117.4 187.3,117.4" fill="#fa5a28"/>
<polygon points="183.3,117.6 185.3,117.6 185.3,119.1 183.3,119.1" fill="#fa5a28"/>
<polygon points="160.2,190.5 164.2,189.5 164.6,192.5 160.6,192.9" fill="#fa5a28"/>
<polygon points="208.1,165.3 210.1,165.3 210.1,168.8 208.1,168.8" fill="#fa5a28"/>
<polygon points="212.5,201.5 215.5,200.5 216.5,205.6 212.9,206.2" fill="#fa5a28"/>
<polygon points="198.4,174.0 203.4,174.0 203.4,175.4 198.4,175.4" fill="#fa5a28"/>
<polygon points="161.2,161.3 163.8,161.3 163.8,162.7 161.2,162.7" fill="#fa5a28"/>
<polygon points="173.3,112.0 175.9,112.0 175.9,113.6 173.3,113.6" fill="#fa5a28"/>
<polygon points="213.5,137.2 215.5,137.2 215.5,139.2 213.5,139.2" fill="#fa5a28"/>
<polygon points="221.5,187.5 224.2,187.5 224.2,188.9 221.5,188.9" fill="#fa5a28"/>
<polygon points="271.2,150.2 275.3,151.2 280.3,153.3 286.3,152.3 289.4,156.3 294.4,155.3 299.4,154.3 304.4,155.3 309.5,158.3 305.5,160.3 300.4,159.3 296.4,160.3 291.4,159.3 288.4,162.3 290.4,167.3 287.3,172.4 288.4,178.4 285.3,181.4 287.3,186.5 283.3,187.5 279.3,184.4 277.3,179.4 275.3,175.4 278.3,170.4 277.3,164.3 278.3,159.3 275.3,155.3" fill="#fa5a28"/>
<polygon points="245.1,135.2 251.1,135.2 251.1,138.2 246.1,138.6" fill="#fa5a28"/>
<polygon points="247.1,158.3 252.1,157.3 253.1,160.3 248.1,161.3" fill="#fa5a28"/>
<polygon points="238.0,173.4 243.1,173.4 245.1,177.4 240.1,178.4 238.0,176.4" fill="#fa5a28"/>
<polygon points="231.0,164.3 234.0,163.9 234.4,170.4 231.6,171.4" fill="#fa5a28"/>
<polygon points="309.5,118.0 312.5,117.0 312.5,120.1 309.5,120.5" fill="#fa5a28"/>
<polygon points="311.5,125.1 316.5,124.5 316.5,126.5 311.5,127.1" fill="#fa5a28"/>
<polygon points="321.5,123.1 325.6,122.1 327.6,127.1 323.6,129.1 321.5,126.1" fill="#fa5a28"/>
<polygon points="322.6,118.0 325.6,118.0 325.6,120.5 322.6,120.5" fill="#fa5a28"/>
<polygon points="232.0,141.2 234.4,141.2 234.4,145.2 232.0,145.2" fill="#fa5a28"/>
<polygon points="256.2,180.4 260.2,180.4 261.2,184.4 257.2,184.8" fill="#fa5a28"/>
<polygon points="253.1,155.3 257.2,155.3 257.2,157.3 253.1,157.3" fill="#fa5a28"/>
<polygon points="263.2,136.2 266.2,136.2 266.2,137.8 263.2,137.8" fill="#fa5a28"/>
<polygon points="238.0,151.2 241.1,151.2 241.1,152.9 238.0,152.9" fill="#fa5a28"/>
<polygon points="243.1,153.3 246.1,153.3 246.1,154.7 243.1,154.7" fill="#fa5a28"/>
<polygon points="286.3,202.6 289.4,202.6 289.4,204.6 286.3,204.6" fill="#fa5a28"/>
<polygon points="292.4,197.5 294.4,197.5 294.4,200.5 292.4,200.5" fill="#fa5a28"/>
<polygon points="213.5,202.0 216.5,202.0 217.2,208.1 214.1,208.1" fill="#fa5a28"/>
<polygon points="163.2,200.0 165.2,200.0 165.2,202.0 163.2,202.0" fill="#fa5a28"/>
<polygon points="206.5,210.1 209.5,210.1 209.5,211.5 206.5,211.5" fill="#fa5a28"/>
<polygon points="257.3,214.2 259.4,214.2 259.4,216.6 257.3,216.6" fill="#fa5a28"/>
<polygon points="269.4,192.1 270.8,192.1 270.8,197.1 269.4,197.1" fill="#fa5a28"/>
<polygon points="271.4,211.2 273.4,211.2 273.4,213.2 271.4,213.2" fill="#fa5a28"/>
<polygon points="266.4,208.2 269.4,208.2 269.4,209.8 266.4,209.8" fill="#fa5a28"/>
<polygon points="257.3,180.0 261.4,180.0 260.4,184.0 257.9,184.0" fill="#fa5a28"/>
<polygon points="277.5,180.0 287.5,180.0 288.5,186.0 283.5,188.0 279.5,185.0" fill="#fa5a28"/>
<polygon points="390.0,71.9 392.4,71.9 392.4,73.8 390.0,73.8" fill="#15795a"/>
<polygon points="328.4,216.1 330.4,216.1 331.4,224.1 329.4,225.2" fill="#15795a"/>
<polygon points="154.4,232.0 158.4,232.0 158.4,237.0 154.4,237.0" fill="#15795a"/>
<polygon points="124.6,243.1 126.2,243.1 126.2,247.1 124.6,247.1" fill="#15795a"/>
<polygon points="141.3,250.1 142.7,250.1 142.7,253.1 141.3,253.1" fill="#15795a"/>
<polygon points="52.1,264.4 55.2,262.4 57.2,266.4 56.2,271.4 53.1,269.4" fill="#15795a"/>
<polygon points="58.2,253.3 60.2,252.3 60.6,255.3 58.6,255.9" fill="#15795a"/>
<polygon points="75.3,276.5 79.3,277.5 79.3,279.5 75.9,278.9" fill="#15795a"/>
<polygon points="124.2,242.3 125.4,242.3 125.4,247.3 124.2,247.3" fill="#15795a"/>
<polygon points="56.2,245.3 58.2,245.3 58.2,247.3 56.2,247.3" fill="#15795a"/>
<polygon points="56.2,142.1 65.2,140.1 67.2,142.1 60.2,145.2 56.2,144.5" fill="#15795a"/>
<polygon points="47.1,160.2 50.1,159.8 50.5,163.3 47.7,163.9" fill="#15795a"/>
<polygon points="47.1,191.4 51.1,190.4 53.1,196.5 50.1,199.5 47.7,196.5" fill="#15795a"/>
<polygon points="102.4,110.3 108.4,108.3 114.4,110.3 113.4,117.3 109.4,118.4 106.4,115.3 103.4,115.3" fill="#15795a"/>
<polygon points="165.1,80.3 170.7,80.3 171.2,84.3 168.3,85.9 165.4,84.3" fill="#15795a"/>
<polygon points="133.7,102.0 136.1,102.0 136.1,104.4 133.7,104.4" fill="#15795a"/>
<polygon points="196.5,51.3 198.9,50.5 199.2,53.7 197.0,54.2" fill="#15795a"/>
<polygon points="148.5,177.4 151.1,177.4 151.1,180.4 148.5,180.4" fill="#15795a"/>
<polygon points="170.2,179.4 172.7,179.4 172.7,182.4 170.2,182.4" fill="#15795a"/>
<polygon points="155.2,232.2 157.2,232.2 157.2,236.2 155.2,236.2" fill="#15795a"/>
<polygon points="137.1,208.1 139.5,208.1 139.5,210.7 137.1,210.7" fill="#15795a"/>
<polygon points="337.1,45.2 340.1,44.2 343.1,47.2 346.2,51.2 347.2,56.2 345.2,57.3 342.1,53.2 339.1,50.2 337.1,48.2" fill="#ffffff"/>
<polygon points="375.3,105.5 380.4,103.5 386.4,103.5 388.4,105.5 384.4,107.6 379.4,108.6 376.3,110.6 374.3,108.6" fill="#ffffff"/>
<polygon points="360.6,53.6 362.3,53.6 362.3,54.8 360.6,54.8" fill="#ffffff"/>
<polygon points="323.3,215.1 328.4,214.1 329.4,220.1 330.4,225.2 326.3,227.2 321.3,227.2 318.3,225.2 319.3,222.1 322.3,220.1" fill="#ffffff"/>
<polygon points="296.2,229.2 301.2,229.2 301.2,230.6 296.2,230.6" fill="#ffffff"/>
<polygon points="249.4,284.3 253.4,282.3 258.5,283.3 259.5,286.3 255.5,288.4 251.4,288.4" fill="#ffffff"/>
<polygon points="203.1,307.5 206.2,307.5 206.2,309.5 203.1,309.5" fill="#ffffff"/>
<polygon points="115.2,249.1 118.2,248.1 118.6,250.1 115.8,251.1" fill="#ffffff"/>
<polygon points="58.2,265.4 62.2,264.4 64.2,268.4 63.2,272.4 58.2,272.4 56.6,269.4" fill="#ffffff"/>
<polygon points="102.4,213.7 103.6,213.7 103.6,217.7 102.4,217.7" fill="#ffffff"/>
<polygon points="114.5,249.9 116.9,249.3 117.3,251.3 114.9,251.9" fill="#ffffff"/>
<polygon points="96.4,196.5 100.4,197.5 103.4,200.5 107.5,200.5 108.5,202.5 105.5,204.5 101.4,201.5 97.4,199.5" fill="#ffffff"/>
<polygon points="102.8,213.6 104.0,213.6 104.0,217.6 102.8,217.6" fill="#ffffff"/>
<polygon points="127.2,88.3 129.7,85.9 134.5,85.1 137.7,83.5 142.5,81.1 148.2,80.3 147.4,83.5 144.2,85.9 139.3,87.5 135.3,89.9 131.3,90.7 128.1,90.2" fill="#ffffff"/>
<polygon points="180.3,137.2 184.3,136.2 187.3,138.2 186.3,142.2 182.3,144.2 179.9,141.2" fill="#ffffff"/>
<polygon points="194.0,145.2 197.4,144.6 198.4,148.2 194.8,149.2" fill="#ffffff"/>
<polygon points="199.4,149.2 201.4,149.2 202.0,152.7 199.8,152.7" fill="#ffffff"/>
<polygon points="177.9,149.2 180.3,149.2 180.3,150.8 177.9,150.8" fill="#ffffff"/>
<polygon points="100.0,122.7 106.0,121.2 110.1,122.3 111.1,128.3 110.1,134.3 104.0,135.3 100.0,133.3" fill="#fbab82"/>
<polygon points="102.4,125.9 105.6,125.9 105.6,128.7 102.4,128.7" fill="#fa5a28"/>
<polygon points="70.2,140.1 78.3,138.1 83.3,140.1 84.3,146.2 81.3,152.2 75.3,153.2 70.2,150.2" fill="#6aa40f"/>
<polygon points="91.4,132.1 98.4,131.1 99.4,140.1 95.4,142.1 91.4,139.1" fill="#6aa40f"/>
<polygon points="42.1,177.3 49.1,175.3 51.1,178.4 50.1,182.8 42.1,182.8" fill="#6aa40f"/>
<polygon points="110.5,200.0 130.0,200.0 130.0,219.1 124.6,220.1 118.5,217.1 114.5,212.1 111.5,207.0" fill="#fbab82"/>
<polygon points="81.3,267.4 88.4,265.4 96.4,267.4 99.4,272.4 97.4,278.5 100.4,284.5 98.4,290.5 92.4,288.5 89.4,282.5 90.4,276.5 85.3,273.4 80.3,271.4" fill="#fbab82"/>
<polygon points="108.5,279.5 116.5,277.5 122.6,280.5 121.5,286.5 115.5,289.5 109.5,287.5" fill="#fbab82"/>
<polygon points="110.5,260.4 118.5,262.4 120.5,267.4 116.5,267.4 110.5,265.4" fill="#fbab82"/>
<polygon points="99.4,263.4 103.4,262.4 105.5,267.4 101.4,269.4 99.4,266.4" fill="#fa5a28"/>
<polygon points="181.1,62.2 183.1,56.2 187.1,52.1 192.1,49.1 200.2,47.1 208.2,44.1 213.3,47.1 217.3,50.1 223.3,52.1 227.3,56.2 228.4,60.2 226.3,63.2 221.3,64.2 217.3,63.2 212.3,62.2 207.2,60.2 203.2,58.2 198.2,60.2 196.2,65.2 191.1,67.2 186.1,66.2 182.1,68.2 179.1,67.2" fill="#6aa40f"/>
<polygon points="196.2,67.2 203.2,66.2 210.2,65.2 217.3,67.2 222.3,71.2 220.3,76.3 218.3,81.3 213.3,84.3 208.2,83.3 203.2,80.3 200.2,75.3 197.2,71.2" fill="#6aa40f"/>
<polygon points="222.3,82.3 228.4,80.3 234.4,83.3 238.4,87.3 244.4,91.4 246.5,95.4 240.4,96.4 235.4,93.4 230.4,92.4 227.3,94.4 223.3,91.4 221.3,86.3" fill="#6aa40f"/>
<polygon points="204.2,94.4 210.2,92.4 215.3,96.4 216.3,102.4 214.3,108.5 209.2,109.5 205.2,105.5 202.2,100.4" fill="#6aa40f"/>
<polygon points="210.2,83.3 218.3,81.3 221.3,86.3 218.3,90.4 213.3,90.4 210.2,87.3" fill="#6aa40f"/>
<polygon points="176.0,78.3 182.1,76.3 187.1,80.3 186.1,85.3 181.1,86.3 177.0,83.3" fill="#6aa40f"/>
<polygon points="170.0,77.3 175.0,79.3 174.0,86.3 170.0,87.3" fill="#6aa40f"/>
<polygon points="247.5,104.4 252.5,102.4 257.5,105.5 256.5,109.5 250.5,110.5 247.5,108.5" fill="#6aa40f"/>
<polygon points="259.5,96.4 265.6,92.4 270.0,91.4 270.0,108.5 265.6,110.5 260.5,107.5 258.5,101.4" fill="#6aa40f"/>
<polygon points="254.5,110.5 260.5,109.5 266.6,111.5 264.6,114.5 257.5,115.5" fill="#6aa40f"/>
<polygon points="221.3,116.5 230.4,115.5 231.4,120.5 223.3,121.5" fill="#6aa40f"/>
<polygon points="238.4,101.4 243.4,100.4 244.4,105.5 239.4,106.5" fill="#6aa40f"/>
<polygon points="189.1,95.4 194.1,94.4 195.2,98.4 190.1,99.4" fill="#6aa40f"/>
<polygon points="174.0,88.4 178.0,87.3 179.1,91.4 175.0,92.4" fill="#6aa40f"/>
<polygon points="229.4,60.2 231.4,55.2 234.4,50.1 239.4,48.1 244.4,49.1 247.5,54.1 249.5,57.2 246.5,59.2 240.4,60.2 234.4,61.2" fill="#6aa40f"/>
<polygon points="249.5,57.2 253.5,55.2 258.5,52.1 259.5,55.2 254.5,58.2" fill="#6aa40f"/>
<polygon points="231.4,126.6 238.4,125.6 239.4,130.0 231.4,130.0" fill="#6aa40f"/>
<polygon points="198.2,92.4 202.2,91.4 202.2,94.4 198.2,94.8" fill="#6aa40f"/>
<polygon points="218.3,63.2 227.3,62.2 227.3,66.2 218.3,66.2" fill="#6aa40f"/>
<polygon points="195.2,49.1 199.2,48.5 199.8,52.1 195.8,52.5" fill="#15795a"/>
<polygon points="211.2,78.3 213.3,78.3 213.3,80.3 211.2,80.3" fill="#15795a"/>
<polygon points="238.4,67.2 242.4,67.2 242.4,69.8 238.4,69.8" fill="#fa5a28"/>
<polygon points="249.5,66.2 254.5,65.8 254.5,67.4 249.5,67.8" fill="#fa5a28"/>
<polygon points="247.5,72.3 252.5,71.9 256.5,76.3 254.5,78.3 249.5,76.7" fill="#fa5a28"/>
<polygon points="240.4,81.3 243.4,81.3 243.4,82.9 240.4,82.9" fill="#fa5a28"/>
<polygon points="261.5,55.2 266.6,54.5 266.6,57.2 261.5,57.6" fill="#fa5a28"/>
<polygon points="184.1,116.5 190.1,115.5 190.1,116.9 184.1,117.9" fill="#fa5a28"/>
<polygon points="170.0,101.4 175.0,99.4 175.4,100.8 170.0,103.4" fill="#fa5a28"/>
<polygon points="254.1,90.0 258.5,90.0 258.5,91.2 254.1,91.2" fill="#fa5a28"/>
<polygon points="90.0,263.2 97.0,264.2 102.1,269.2 99.1,273.3 94.0,274.3 90.0,273.3" fill="#6aa40f"/>
<polygon points="90.0,275.3 98.0,273.3 104.1,275.3 102.1,282.3 96.0,284.3 90.0,283.3" fill="#6aa40f"/>
<polygon points="115.2,206.3 123.3,204.7 130.3,209.3 136.3,215.3 131.9,220.4 123.3,221.4 116.2,218.4 113.8,212.3" fill="#fbab82"/>
<polygon points="127.9,78.4 130.9,74.8 134.5,72.9 138.1,71.7 141.1,70.5 144.2,71.1 148.4,69.9 152.6,70.5 156.2,69.3 159.3,71.1 160.5,74.2 158.6,77.2 155.0,78.4 151.4,77.8 149.0,79.0 144.2,78.7 142.3,80.2 139.3,82.6 136.3,83.8 133.3,85.0 130.3,85.6 127.9,86.2 126.6,82.6" fill="#fbab82"/>
<polygon points="130.3,80.8 133.3,80.2 134.5,82.6 131.5,83.8" fill="#6aa40f"/>
<polygon points="146.0,73.6 150.2,72.9 150.8,76.0 147.2,76.6" fill="#6aa40f"/>
<polygon points="134.5,90.1 138.1,89.6 138.4,92.5 135.1,93.0" fill="#6aa40f"/>
<polygon points="127.2,86.8 130.3,85.6 133.3,85.0 136.3,83.8 139.3,82.6 142.3,80.2 144.2,78.7 147.2,78.7 148.7,80.8 147.2,82.6 144.8,84.4 146.0,86.2 147.2,88.0 146.0,89.9 142.9,88.9 139.3,88.6 136.3,89.3 133.3,90.1 130.3,90.5 127.9,89.3" fill="#ffffff"/>
<polygon points="160.5,66.3 164.7,68.1 168.3,65.7 171.9,66.3 173.1,69.9 175.0,72.3 173.1,74.2 168.3,73.6 163.5,72.9 160.5,71.1" fill="#6aa40f"/>
<polygon points="155.0,62.7 158.6,63.9 160.5,66.3 160.5,71.1 156.2,69.3 152.6,70.5 150.2,68.1 150.8,63.3" fill="#6aa40f"/>
<polygon points="99.7,122.4 106.1,120.8 112.5,119.2 119.0,118.3 124.6,117.5 127.8,120.0 126.2,124.8 122.2,127.2 119.0,129.6 117.4,133.6 114.2,134.5 107.7,133.6 102.9,136.1 98.1,133.6 96.4,128.0" fill="#fbab82"/>
<polygon points="114.2,134.5 119.0,129.6 122.2,132.0 127.0,134.5 131.9,137.7 130.3,141.7 122.2,141.7 115.8,139.3" fill="#fbab82"/>
<polygon points="115.8,125.6 119.8,124.8 120.6,128.0 116.6,128.8" fill="#6aa40f"/>
<polygon points="103.4,124.8 106.1,124.8 106.1,128.8 103.4,128.8" fill="#fa5a28"/>
<g transform="translate(19.0,17.6) scale(1.372)" shape-rendering="crispEdges"><path d="M236 9h1v1h-1zM250 11h1v1h-1zM192 15h2v1h-2zM188 17h2v1h-2zM210 17h1v1h-1zM222 17h1v1h-1zM188 18h1v1h-1zM210 18h1v1h-1zM224 18h2v1h-2zM201 20h2v1h-2zM245 20h2v1h-2zM202 21h1v1h-1zM245 21h2v1h-2zM206 22h2v1h-2zM209 22h1v1h-1zM245 22h1v1h-1zM207 23h2v1h-2zM274 23h1v1h-1zM150 24h1v1h-1zM223 24h1v1h-1zM275 24h1v1h-1zM150 25h2v1h-2zM205 25h3v1h-3zM228 25h2v1h-2zM275 25h1v1h-1zM151 26h1v1h-1zM154 26h1v1h-1zM205 26h1v1h-1zM217 26h1v1h-1zM225 26h1v1h-1zM228 26h1v1h-1zM275 26h1v1h-1zM137 27h1v1h-1zM178 27h3v1h-3zM188 27h1v1h-1zM204 27h1v1h-1zM212 27h2v1h-2zM220 27h2v1h-2zM176 28h1v1h-1zM180 28h1v1h-1zM188 28h1v1h-1zM211 28h3v1h-3zM224 28h1v1h-1zM140 29h1v1h-1zM191 29h1v1h-1zM220 29h1v1h-1zM261 29h3v1h-3zM139 30h5v1h-5zM158 30h1v1h-1zM191 30h2v1h-2zM201 30h2v1h-2zM220 30h2v1h-2zM260 30h4v1h-4zM139 31h6v1h-6zM157 31h1v1h-1zM198 31h1v1h-1zM220 31h1v1h-1zM226 31h2v1h-2zM262 31h2v1h-2zM126 32h3v1h-3zM141 32h4v1h-4zM194 32h1v1h-1zM214 32h2v1h-2zM270 32h1v1h-1zM121 33h2v1h-2zM126 33h3v1h-3zM205 33h1v1h-1zM270 33h1v1h-1zM120 34h3v1h-3zM127 34h2v1h-2zM205 34h1v1h-1zM215 34h1v1h-1zM262 34h2v1h-2zM108 35h1v1h-1zM123 35h1v1h-1zM131 35h1v1h-1zM168 35h3v1h-3zM230 35h1v1h-1zM271 35h2v1h-2zM101 36h2v1h-2zM107 36h1v1h-1zM162 36h1v1h-1zM169 36h2v1h-2zM233 36h1v1h-1zM269 36h1v1h-1zM100 37h3v1h-3zM105 37h3v1h-3zM159 37h2v1h-2zM212 37h2v1h-2zM233 37h2v1h-2zM269 37h3v1h-3zM273 37h1v1h-1zM96 38h1v1h-1zM101 38h2v1h-2zM108 38h1v1h-1zM119 38h1v1h-1zM147 38h1v1h-1zM190 38h2v1h-2zM212 38h2v1h-2zM216 38h2v1h-2zM232 38h2v1h-2zM249 38h2v1h-2zM83 39h2v1h-2zM109 39h1v1h-1zM114 39h1v1h-1zM129 39h2v1h-2zM147 39h1v1h-1zM216 39h2v1h-2zM249 39h2v1h-2zM109 40h2v1h-2zM113 40h2v1h-2zM129 40h2v1h-2zM146 40h2v1h-2zM169 40h2v1h-2zM114 41h1v1h-1zM146 41h1v1h-1zM269 41h3v1h-3zM106 42h2v1h-2zM146 42h1v1h-1zM167 42h2v1h-2zM172 42h1v1h-1zM205 42h2v1h-2zM214 42h1v1h-1zM224 42h1v1h-1zM254 42h1v1h-1zM79 43h1v1h-1zM106 43h2v1h-2zM206 43h1v1h-1zM218 43h1v1h-1zM227 43h2v1h-2zM254 43h1v1h-1zM169 44h2v1h-2zM137 45h1v1h-1zM201 45h2v1h-2zM204 45h3v1h-3zM83 46h1v1h-1zM136 46h2v1h-2zM148 46h2v1h-2zM153 46h1v1h-1zM197 46h2v1h-2zM202 46h6v1h-6zM221 46h4v1h-4zM238 46h1v1h-1zM82 47h2v1h-2zM137 47h1v1h-1zM139 47h1v1h-1zM148 47h2v1h-2zM153 47h2v1h-2zM198 47h1v1h-1zM206 47h2v1h-2zM238 47h1v1h-1zM103 48h1v1h-1zM139 48h3v1h-3zM143 48h1v1h-1zM147 48h4v1h-4zM199 48h1v1h-1zM207 48h1v1h-1zM238 48h1v1h-1zM247 48h1v1h-1zM274 48h1v1h-1zM119 49h1v1h-1zM148 49h2v1h-2zM268 49h1v1h-1zM148 50h2v1h-2zM196 50h1v1h-1zM229 50h2v1h-2zM260 50h1v1h-1zM267 50h2v1h-2zM148 51h2v1h-2zM158 51h1v1h-1zM230 51h1v1h-1zM260 51h1v1h-1zM267 51h1v1h-1zM95 52h2v1h-2zM144 52h2v1h-2zM147 52h3v1h-3zM157 52h2v1h-2zM183 52h1v1h-1zM230 52h1v1h-1zM260 52h1v1h-1zM84 53h1v1h-1zM161 53h1v1h-1zM171 53h1v1h-1zM173 53h2v1h-2zM230 53h1v1h-1zM259 53h2v1h-2zM84 54h3v1h-3zM133 54h1v1h-1zM151 54h1v1h-1zM161 54h4v1h-4zM181 54h1v1h-1zM137 55h4v1h-4zM161 55h4v1h-4zM186 55h3v1h-3zM206 55h1v1h-1zM239 55h3v1h-3zM81 56h1v1h-1zM160 56h5v1h-5zM186 56h4v1h-4zM192 56h1v1h-1zM206 56h1v1h-1zM239 56h1v1h-1zM276 56h3v1h-3zM125 57h3v1h-3zM195 57h1v1h-1zM275 57h3v1h-3zM125 58h3v1h-3zM184 58h2v1h-2zM195 58h1v1h-1zM241 58h1v1h-1zM125 59h1v1h-1zM195 59h1v1h-1zM198 60h3v1h-3zM262 60h3v1h-3zM270 60h1v1h-1zM112 61h1v1h-1zM175 61h1v1h-1zM198 61h1v1h-1zM101 62h4v1h-4zM175 62h2v1h-2zM201 62h1v1h-1zM242 62h2v1h-2zM257 62h2v1h-2zM129 63h1v1h-1zM175 63h3v1h-3zM242 63h1v1h-1zM257 63h2v1h-2zM168 64h1v1h-1zM176 64h1v1h-1zM242 64h3v1h-3zM140 65h2v1h-2zM168 65h1v1h-1zM176 65h2v1h-2zM213 65h2v1h-2zM230 65h1v1h-1zM130 66h1v1h-1zM212 66h2v1h-2zM230 66h1v1h-1zM176 67h3v1h-3zM227 67h2v1h-2zM90 68h1v1h-1zM177 68h2v1h-2zM193 68h1v1h-1zM201 68h7v1h-7zM218 68h1v1h-1zM112 69h1v1h-1zM177 69h1v1h-1zM194 69h4v1h-4zM204 69h4v1h-4zM218 69h2v1h-2zM250 69h1v1h-1zM77 70h2v1h-2zM88 70h2v1h-2zM134 70h1v1h-1zM178 70h2v1h-2zM186 70h2v1h-2zM192 70h1v1h-1zM195 70h3v1h-3zM77 71h1v1h-1zM89 71h1v1h-1zM178 71h2v1h-2zM186 71h2v1h-2zM190 71h2v1h-2zM193 71h1v1h-1zM245 71h1v1h-1zM70 72h2v1h-2zM134 72h3v1h-3zM148 72h3v1h-3zM154 72h3v1h-3zM192 72h2v1h-2zM68 73h5v1h-5zM133 73h1v1h-1zM147 73h1v1h-1zM154 73h3v1h-3zM185 73h1v1h-1zM193 73h2v1h-2zM212 73h2v1h-2zM221 73h1v1h-1zM223 73h1v1h-1zM59 74h3v1h-3zM91 74h2v1h-2zM133 74h1v1h-1zM147 74h2v1h-2zM154 74h2v1h-2zM193 74h5v1h-5zM211 74h2v1h-2zM59 75h3v1h-3zM91 75h2v1h-2zM103 75h1v1h-1zM148 75h3v1h-3zM194 75h4v1h-4zM213 75h1v1h-1zM196 76h1v1h-1zM213 76h1v1h-1zM224 76h1v1h-1zM132 77h2v1h-2zM154 79h2v1h-2zM224 79h1v1h-1zM154 80h1v1h-1zM205 80h1v1h-1zM54 81h3v1h-3zM195 81h1v1h-1zM205 81h2v1h-2zM220 81h1v1h-1zM53 82h4v1h-4zM205 82h2v1h-2zM244 82h1v1h-1zM123 83h1v1h-1zM244 83h1v1h-1zM42 84h1v1h-1zM242 84h4v1h-4zM92 85h1v1h-1zM117 85h1v1h-1zM123 85h2v1h-2zM89 86h3v1h-3zM123 86h1v1h-1zM179 86h1v1h-1zM210 86h2v1h-2zM123 87h1v1h-1zM142 87h1v1h-1zM165 87h1v1h-1zM179 87h1v1h-1zM210 87h2v1h-2zM46 88h3v1h-3zM53 88h2v1h-2zM123 88h1v1h-1zM142 88h1v1h-1zM31 89h2v1h-2zM46 89h1v1h-1zM54 89h1v1h-1zM197 89h2v1h-2zM55 90h1v1h-1zM192 90h1v1h-1zM244 90h1v1h-1zM226 91h1v1h-1zM243 91h1v1h-1zM70 92h1v1h-1zM194 92h1v1h-1zM222 92h2v1h-2zM226 92h1v1h-1zM80 93h1v1h-1zM194 93h1v1h-1zM223 93h4v1h-4zM31 94h1v1h-1zM80 94h1v1h-1zM85 94h1v1h-1zM89 94h2v1h-2zM223 94h2v1h-2zM85 95h1v1h-1zM28 96h1v1h-1zM38 96h1v1h-1zM22 97h1v1h-1zM28 97h1v1h-1zM39 97h1v1h-1zM44 97h2v1h-2zM184 97h2v1h-2zM22 98h2v1h-2zM27 98h1v1h-1zM38 98h1v1h-1zM185 98h2v1h-2zM188 98h1v1h-1zM226 98h1v1h-1zM34 99h1v1h-1zM38 99h2v1h-2zM55 99h1v1h-1zM186 99h3v1h-3zM190 99h1v1h-1zM194 99h2v1h-2zM225 99h1v1h-1zM29 100h2v1h-2zM34 100h1v1h-1zM55 100h1v1h-1zM112 100h1v1h-1zM187 100h1v1h-1zM195 100h2v1h-2zM207 100h1v1h-1zM29 101h1v1h-1zM38 101h3v1h-3zM119 101h1v1h-1zM123 101h2v1h-2zM207 101h3v1h-3zM38 102h2v1h-2zM83 102h2v1h-2zM119 102h1v1h-1zM123 102h3v1h-3zM167 102h1v1h-1zM203 102h1v1h-1zM210 102h1v1h-1zM83 103h2v1h-2zM123 103h2v1h-2zM127 103h1v1h-1zM170 103h1v1h-1zM207 103h3v1h-3zM36 104h2v1h-2zM74 104h2v1h-2zM124 104h2v1h-2zM167 104h2v1h-2zM179 104h2v1h-2zM195 104h3v1h-3zM33 105h8v1h-8zM104 105h1v1h-1zM179 105h3v1h-3zM195 105h1v1h-1zM34 106h3v1h-3zM177 106h3v1h-3zM195 106h1v1h-1zM36 107h1v1h-1zM121 107h1v1h-1zM155 107h2v1h-2zM177 107h3v1h-3zM27 108h1v1h-1zM53 108h1v1h-1zM116 108h2v1h-2zM122 108h1v1h-1zM155 108h1v1h-1zM177 108h2v1h-2zM221 108h1v1h-1zM85 109h1v1h-1zM116 109h2v1h-2zM122 109h2v1h-2zM178 109h1v1h-1zM85 110h1v1h-1zM123 110h1v1h-1zM156 110h1v1h-1zM178 110h1v1h-1zM189 110h1v1h-1zM156 111h1v1h-1zM234 111h1v1h-1zM23 112h1v1h-1zM26 112h1v1h-1zM121 112h1v1h-1zM195 112h1v1h-1zM23 113h1v1h-1zM93 113h1v1h-1zM145 113h3v1h-3zM160 113h3v1h-3zM195 113h1v1h-1zM93 114h1v1h-1zM97 114h1v1h-1zM132 114h1v1h-1zM146 114h2v1h-2zM160 114h1v1h-1zM162 114h2v1h-2zM195 114h1v1h-1zM93 115h1v1h-1zM160 115h1v1h-1zM163 115h1v1h-1zM120 116h3v1h-3zM124 116h2v1h-2zM160 116h1v1h-1zM114 117h1v1h-1zM121 117h2v1h-2zM128 117h1v1h-1zM137 117h2v1h-2zM20 118h1v1h-1zM98 118h2v1h-2zM115 118h1v1h-1zM128 118h1v1h-1zM195 118h1v1h-1zM20 119h2v1h-2zM98 119h2v1h-2zM115 119h2v1h-2zM122 119h2v1h-2zM189 119h1v1h-1zM195 119h1v1h-1zM115 120h2v1h-2zM124 120h1v1h-1zM136 120h1v1h-1zM26 121h1v1h-1zM38 121h2v1h-2zM95 121h1v1h-1zM176 121h1v1h-1zM195 121h1v1h-1zM27 122h1v1h-1zM39 122h1v1h-1zM131 122h1v1h-1zM191 122h2v1h-2zM194 122h3v1h-3zM38 123h2v1h-2zM131 123h2v1h-2zM113 124h2v1h-2zM125 124h1v1h-1zM131 124h1v1h-1zM149 124h1v1h-1zM219 124h1v1h-1zM33 126h1v1h-1zM104 126h2v1h-2zM33 127h2v1h-2zM63 127h1v1h-1zM104 127h1v1h-1zM122 127h1v1h-1zM120 128h1v1h-1zM122 128h1v1h-1zM127 128h1v1h-1zM75 129h1v1h-1zM119 129h4v1h-4zM138 129h1v1h-1zM224 129h2v1h-2zM79 130h2v1h-2zM120 130h4v1h-4zM224 130h2v1h-2zM80 131h1v1h-1zM107 131h1v1h-1zM121 131h3v1h-3zM225 131h1v1h-1zM106 132h2v1h-2zM109 132h2v1h-2zM114 132h1v1h-1zM223 132h1v1h-1zM40 133h1v1h-1zM45 133h2v1h-2zM107 133h3v1h-3zM114 133h1v1h-1zM172 133h2v1h-2zM223 133h1v1h-1zM226 133h1v1h-1zM46 134h1v1h-1zM86 134h1v1h-1zM106 134h4v1h-4zM114 134h1v1h-1zM141 134h2v1h-2zM195 134h1v1h-1zM222 134h2v1h-2zM227 134h1v1h-1zM53 135h1v1h-1zM85 135h2v1h-2zM141 135h1v1h-1zM143 135h1v1h-1zM194 135h2v1h-2zM222 135h2v1h-2zM141 136h1v1h-1zM219 136h1v1h-1zM59 137h2v1h-2zM62 137h1v1h-1zM161 137h2v1h-2zM220 137h1v1h-1zM94 138h1v1h-1zM183 138h3v1h-3zM32 139h2v1h-2zM45 139h2v1h-2zM67 139h1v1h-1zM92 139h3v1h-3zM181 139h1v1h-1zM183 139h2v1h-2zM204 139h1v1h-1zM209 139h1v1h-1zM45 140h3v1h-3zM68 140h1v1h-1zM93 140h1v1h-1zM155 140h2v1h-2zM209 140h1v1h-1zM45 141h3v1h-3zM68 141h1v1h-1zM155 141h3v1h-3zM30 142h1v1h-1zM33 142h2v1h-2zM46 142h3v1h-3zM68 142h1v1h-1zM112 142h1v1h-1zM202 142h3v1h-3zM206 142h1v1h-1zM47 143h2v1h-2zM67 143h3v1h-3zM95 143h2v1h-2zM112 143h1v1h-1zM139 143h1v1h-1zM203 143h1v1h-1zM32 144h2v1h-2zM68 144h2v1h-2zM94 144h3v1h-3zM112 144h1v1h-1zM139 144h1v1h-1zM27 145h1v1h-1zM33 145h2v1h-2zM162 145h1v1h-1zM194 145h3v1h-3zM33 146h1v1h-1zM47 146h2v1h-2zM51 146h1v1h-1zM130 146h1v1h-1zM163 146h2v1h-2zM195 146h1v1h-1zM47 147h2v1h-2zM50 147h2v1h-2zM54 147h2v1h-2zM127 147h2v1h-2zM143 147h1v1h-1zM163 147h2v1h-2zM214 147h1v1h-1zM79 148h1v1h-1zM124 148h5v1h-5zM163 148h1v1h-1zM191 148h2v1h-2zM23 149h2v1h-2zM103 149h3v1h-3zM124 149h3v1h-3zM192 149h1v1h-1zM217 149h2v1h-2zM87 150h1v1h-1zM103 150h4v1h-4zM153 150h2v1h-2zM217 150h1v1h-1zM137 151h1v1h-1zM153 151h2v1h-2zM20 152h1v1h-1zM32 152h2v1h-2zM153 152h2v1h-2zM191 152h1v1h-1zM139 153h1v1h-1zM166 153h1v1h-1zM226 153h1v1h-1zM53 154h3v1h-3zM135 154h1v1h-1zM137 154h1v1h-1zM159 154h1v1h-1zM199 154h1v1h-1zM224 154h2v1h-2zM115 155h3v1h-3zM224 155h1v1h-1zM64 156h1v1h-1zM123 157h2v1h-2zM188 157h1v1h-1zM192 157h3v1h-3zM98 158h1v1h-1zM112 158h2v1h-2zM124 158h1v1h-1zM187 158h2v1h-2zM56 159h1v1h-1zM64 159h2v1h-2zM93 159h1v1h-1zM124 159h1v1h-1zM175 159h2v1h-2zM64 160h1v1h-1zM112 160h2v1h-2zM123 160h2v1h-2zM64 161h1v1h-1zM79 161h1v1h-1zM112 161h1v1h-1zM119 161h1v1h-1zM123 161h2v1h-2zM207 161h1v1h-1zM79 162h2v1h-2zM31 163h1v1h-1zM71 163h2v1h-2zM80 163h1v1h-1zM30 164h2v1h-2zM33 164h1v1h-1zM47 164h1v1h-1zM71 164h3v1h-3zM149 164h1v1h-1zM204 164h2v1h-2zM33 165h2v1h-2zM47 165h1v1h-1zM73 165h2v1h-2zM150 165h1v1h-1zM163 165h1v1h-1zM73 166h2v1h-2zM144 166h1v1h-1zM150 166h1v1h-1zM180 166h1v1h-1zM42 167h1v1h-1zM55 167h2v1h-2zM139 167h2v1h-2zM143 167h2v1h-2zM150 167h1v1h-1zM54 168h2v1h-2zM67 168h1v1h-1zM139 168h2v1h-2zM165 168h1v1h-1zM182 168h2v1h-2zM54 169h2v1h-2zM74 169h1v1h-1zM94 169h3v1h-3zM109 169h1v1h-1zM136 169h2v1h-2zM162 169h1v1h-1zM165 169h3v1h-3zM176 169h1v1h-1zM183 169h2v1h-2zM68 170h1v1h-1zM73 170h2v1h-2zM95 170h2v1h-2zM105 170h1v1h-1zM137 170h2v1h-2zM171 170h1v1h-1zM175 170h2v1h-2zM67 171h2v1h-2zM73 171h2v1h-2zM103 171h2v1h-2zM171 171h1v1h-1zM175 171h2v1h-2zM178 171h1v1h-1zM32 172h2v1h-2zM102 172h2v1h-2zM112 172h1v1h-1zM174 172h3v1h-3zM180 172h2v1h-2zM67 173h1v1h-1zM71 173h1v1h-1zM175 173h1v1h-1zM178 173h1v1h-1zM180 173h1v1h-1zM63 174h5v1h-5zM115 174h1v1h-1zM64 175h1v1h-1zM67 175h1v1h-1zM98 175h1v1h-1zM104 175h5v1h-5zM115 175h1v1h-1zM153 175h1v1h-1zM55 176h1v1h-1zM64 176h1v1h-1zM75 176h2v1h-2zM108 176h1v1h-1zM115 176h1v1h-1zM126 176h1v1h-1zM138 176h1v1h-1zM153 176h1v1h-1zM182 176h1v1h-1zM40 177h1v1h-1zM63 177h3v1h-3zM75 177h2v1h-2zM93 177h1v1h-1zM100 177h2v1h-2zM114 177h1v1h-1zM126 177h1v1h-1zM137 177h2v1h-2zM41 178h2v1h-2zM61 178h1v1h-1zM64 178h2v1h-2zM78 178h1v1h-1zM91 178h1v1h-1zM93 178h1v1h-1zM41 179h2v1h-2zM59 179h2v1h-2zM91 179h1v1h-1zM152 179h3v1h-3zM59 180h1v1h-1zM62 180h1v1h-1zM91 180h1v1h-1zM152 180h3v1h-3zM60 181h4v1h-4zM90 181h2v1h-2zM116 181h2v1h-2zM72 182h1v1h-1zM163 182h3v1h-3zM60 183h2v1h-2zM157 183h3v1h-3zM163 183h2v1h-2zM60 184h3v1h-3zM68 184h2v1h-2zM72 184h1v1h-1zM149 184h2v1h-2zM152 184h2v1h-2zM158 184h2v1h-2zM60 185h4v1h-4zM72 185h1v1h-1zM78 185h2v1h-2zM85 185h1v1h-1zM141 185h1v1h-1zM153 185h1v1h-1zM158 185h3v1h-3zM62 186h2v1h-2zM85 186h1v1h-1zM141 186h1v1h-1zM150 186h5v1h-5zM53 187h2v1h-2zM72 187h1v1h-1zM92 187h2v1h-2zM54 188h1v1h-1zM70 188h2v1h-2zM80 188h1v1h-1zM87 188h2v1h-2zM90 188h3v1h-3zM146 188h4v1h-4zM80 189h1v1h-1zM87 189h2v1h-2zM90 189h2v1h-2zM145 189h4v1h-4zM151 189h3v1h-3zM167 189h2v1h-2zM172 189h1v1h-1zM66 190h1v1h-1zM80 190h1v1h-1zM90 190h1v1h-1zM151 190h4v1h-4zM167 190h4v1h-4zM80 191h1v1h-1zM116 191h1v1h-1zM169 191h2v1h-2zM64 192h1v1h-1zM79 192h2v1h-2zM98 192h2v1h-2zM163 192h2v1h-2zM169 192h1v1h-1zM64 193h1v1h-1zM80 193h1v1h-1zM99 193h5v1h-5zM122 193h1v1h-1zM164 193h1v1h-1zM64 194h1v1h-1zM102 194h1v1h-1zM121 194h3v1h-3zM158 194h1v1h-1zM61 195h5v1h-5zM100 195h1v1h-1zM121 195h3v1h-3zM61 196h3v1h-3zM100 196h2v1h-2zM144 196h2v1h-2zM60 197h3v1h-3zM144 197h1v1h-1zM58 198h1v1h-1zM60 198h2v1h-2zM78 198h1v1h-1zM57 199h2v1h-2zM74 199h5v1h-5zM75 200h4v1h-4zM140 200h1v1h-1zM76 201h3v1h-3zM139 201h3v1h-3zM139 202h2v1h-2zM80 203h2v1h-2zM94 203h5v1h-5zM137 203h3v1h-3zM81 204h1v1h-1zM94 204h2v1h-2zM137 204h2v1h-2zM137 205h2v1h-2zM137 206h1v1h-1zM116 212h1v1h-1zM116 213h2v1h-2zM135 213h1v1h-1zM116 214h2v1h-2z" fill="#fbab82"/><path d="M237 9h2v1h-2zM238 10h3v1h-3zM239 11h2v1h-2zM234 13h1v1h-1zM236 13h2v1h-2zM244 13h1v1h-1zM235 14h3v1h-3zM244 14h1v1h-1zM218 15h3v1h-3zM234 15h4v1h-4zM203 16h1v1h-1zM210 16h2v1h-2zM218 16h1v1h-1zM234 16h4v1h-4zM202 17h1v1h-1zM211 17h2v1h-2zM235 17h2v1h-2zM185 19h1v1h-1zM205 19h1v1h-1zM184 20h1v1h-1zM209 20h1v1h-1zM210 21h3v1h-3zM181 22h1v1h-1zM210 22h3v1h-3zM150 23h1v1h-1zM151 24h1v1h-1zM184 24h1v1h-1zM180 26h1v1h-1zM189 26h1v1h-1zM247 26h1v1h-1zM265 26h1v1h-1zM211 27h1v1h-1zM265 27h1v1h-1zM152 28h1v1h-1zM253 28h1v1h-1zM152 29h1v1h-1zM207 29h1v1h-1zM169 30h5v1h-5zM207 30h1v1h-1zM259 30h1v1h-1zM267 30h1v1h-1zM153 31h1v1h-1zM161 31h2v1h-2zM170 31h2v1h-2zM206 31h2v1h-2zM259 31h1v1h-1zM267 31h2v1h-2zM152 32h1v1h-1zM230 32h2v1h-2zM144 33h1v1h-1zM152 33h1v1h-1zM222 33h1v1h-1zM230 33h2v1h-2zM144 34h1v1h-1zM152 34h1v1h-1zM183 34h1v1h-1zM260 34h1v1h-1zM122 35h1v1h-1zM144 35h3v1h-3zM150 35h3v1h-3zM192 35h1v1h-1zM194 35h1v1h-1zM200 35h1v1h-1zM215 35h1v1h-1zM260 35h4v1h-4zM120 36h3v1h-3zM145 36h2v1h-2zM149 36h5v1h-5zM200 36h3v1h-3zM215 36h1v1h-1zM119 37h3v1h-3zM148 37h3v1h-3zM220 37h1v1h-1zM94 38h2v1h-2zM98 38h2v1h-2zM149 38h2v1h-2zM195 38h1v1h-1zM220 38h1v1h-1zM94 39h5v1h-5zM126 39h1v1h-1zM150 39h2v1h-2zM194 39h1v1h-1zM220 39h1v1h-1zM98 40h1v1h-1zM104 40h2v1h-2zM125 40h3v1h-3zM199 40h1v1h-1zM105 41h2v1h-2zM108 41h4v1h-4zM125 41h3v1h-3zM198 41h2v1h-2zM261 41h1v1h-1zM86 42h1v1h-1zM110 42h2v1h-2zM115 42h1v1h-1zM118 42h1v1h-1zM181 42h1v1h-1zM220 42h3v1h-3zM228 42h5v1h-5zM80 43h1v1h-1zM83 43h1v1h-1zM87 43h2v1h-2zM116 43h1v1h-1zM124 43h2v1h-2zM181 43h1v1h-1zM231 43h2v1h-2zM269 43h1v1h-1zM79 44h1v1h-1zM83 44h2v1h-2zM87 44h2v1h-2zM124 44h2v1h-2zM146 44h1v1h-1zM154 44h1v1h-1zM189 44h1v1h-1zM200 44h1v1h-1zM210 44h1v1h-1zM217 44h1v1h-1zM82 45h3v1h-3zM123 45h3v1h-3zM153 45h2v1h-2zM198 45h2v1h-2zM259 45h1v1h-1zM276 45h2v1h-2zM123 46h2v1h-2zM154 46h1v1h-1zM277 46h1v1h-1zM136 47h1v1h-1zM217 47h1v1h-1zM220 47h2v1h-2zM102 48h1v1h-1zM136 48h2v1h-2zM196 48h1v1h-1zM208 48h2v1h-2zM217 48h1v1h-1zM220 48h2v1h-2zM259 48h2v1h-2zM138 49h1v1h-1zM204 49h1v1h-1zM208 49h2v1h-2zM258 49h1v1h-1zM260 49h3v1h-3zM94 50h1v1h-1zM99 50h1v1h-1zM160 50h1v1h-1zM203 50h1v1h-1zM263 50h1v1h-1zM94 51h2v1h-2zM107 51h2v1h-2zM161 51h3v1h-3zM274 51h2v1h-2zM94 52h1v1h-1zM134 52h1v1h-1zM140 52h1v1h-1zM163 52h2v1h-2zM199 52h1v1h-1zM269 52h1v1h-1zM274 52h3v1h-3zM83 53h1v1h-1zM94 53h1v1h-1zM117 53h1v1h-1zM130 53h6v1h-6zM140 53h3v1h-3zM198 53h2v1h-2zM274 53h2v1h-2zM278 53h4v1h-4zM82 54h2v1h-2zM90 54h2v1h-2zM112 54h3v1h-3zM116 54h2v1h-2zM139 54h4v1h-4zM148 54h1v1h-1zM216 54h1v1h-1zM278 54h5v1h-5zM82 55h1v1h-1zM90 55h2v1h-2zM104 55h1v1h-1zM117 55h1v1h-1zM124 55h4v1h-4zM141 55h2v1h-2zM177 55h1v1h-1zM190 55h2v1h-2zM216 55h2v1h-2zM231 55h1v1h-1zM277 55h3v1h-3zM281 55h2v1h-2zM90 56h2v1h-2zM96 56h1v1h-1zM101 56h2v1h-2zM123 56h1v1h-1zM128 56h1v1h-1zM134 56h1v1h-1zM150 56h2v1h-2zM175 56h2v1h-2zM270 56h1v1h-1zM283 56h1v1h-1zM112 57h1v1h-1zM150 57h3v1h-3zM174 57h1v1h-1zM230 57h1v1h-1zM128 58h2v1h-2zM145 58h2v1h-2zM174 58h1v1h-1zM231 58h2v1h-2zM256 58h3v1h-3zM126 59h3v1h-3zM155 59h2v1h-2zM174 59h1v1h-1zM253 59h6v1h-6zM264 59h5v1h-5zM124 60h4v1h-4zM132 60h2v1h-2zM161 60h2v1h-2zM174 60h1v1h-1zM219 60h2v1h-2zM223 60h2v1h-2zM226 60h4v1h-4zM253 60h5v1h-5zM91 61h1v1h-1zM118 61h3v1h-3zM123 61h5v1h-5zM131 61h3v1h-3zM147 61h1v1h-1zM165 61h1v1h-1zM197 61h1v1h-1zM240 61h1v1h-1zM254 61h2v1h-2zM107 62h2v1h-2zM117 62h4v1h-4zM126 62h6v1h-6zM145 62h5v1h-5zM165 62h2v1h-2zM218 62h1v1h-1zM255 62h1v1h-1zM91 63h1v1h-1zM106 63h3v1h-3zM119 63h1v1h-1zM127 63h1v1h-1zM145 63h1v1h-1zM165 63h1v1h-1zM193 63h1v1h-1zM215 63h4v1h-4zM255 63h1v1h-1zM91 64h4v1h-4zM119 64h1v1h-1zM127 64h1v1h-1zM165 64h1v1h-1zM208 64h3v1h-3zM213 64h2v1h-2zM255 64h1v1h-1zM92 65h2v1h-2zM118 65h2v1h-2zM148 65h2v1h-2zM158 65h5v1h-5zM208 65h5v1h-5zM254 65h4v1h-4zM92 66h2v1h-2zM148 66h3v1h-3zM158 66h2v1h-2zM161 66h2v1h-2zM197 66h1v1h-1zM210 66h2v1h-2zM254 66h4v1h-4zM92 67h3v1h-3zM132 67h1v1h-1zM147 67h1v1h-1zM199 67h3v1h-3zM206 67h1v1h-1zM93 68h2v1h-2zM98 68h1v1h-1zM101 68h2v1h-2zM116 68h1v1h-1zM131 68h2v1h-2zM140 68h2v1h-2zM170 68h2v1h-2zM93 69h2v1h-2zM97 69h2v1h-2zM140 69h1v1h-1zM171 69h1v1h-1zM227 69h1v1h-1zM247 69h1v1h-1zM133 70h1v1h-1zM137 70h2v1h-2zM145 70h2v1h-2zM239 70h1v1h-1zM253 70h1v1h-1zM132 71h2v1h-2zM145 71h2v1h-2zM220 71h1v1h-1zM223 71h3v1h-3zM145 72h1v1h-1zM178 72h3v1h-3zM219 72h5v1h-5zM134 73h1v1h-1zM157 73h1v1h-1zM182 73h3v1h-3zM186 73h1v1h-1zM216 73h3v1h-3zM220 73h1v1h-1zM71 74h1v1h-1zM78 74h1v1h-1zM156 74h2v1h-2zM183 74h3v1h-3zM189 74h1v1h-1zM192 74h1v1h-1zM215 74h3v1h-3zM77 75h2v1h-2zM154 75h3v1h-3zM185 75h3v1h-3zM191 75h3v1h-3zM215 75h2v1h-2zM246 75h2v1h-2zM250 75h1v1h-1zM77 76h2v1h-2zM102 76h2v1h-2zM174 76h1v1h-1zM185 76h3v1h-3zM191 76h5v1h-5zM243 76h5v1h-5zM249 76h1v1h-1zM131 77h1v1h-1zM195 77h2v1h-2zM247 77h2v1h-2zM69 78h2v1h-2zM105 78h1v1h-1zM131 78h3v1h-3zM195 78h1v1h-1zM69 79h2v1h-2zM100 79h1v1h-1zM105 79h1v1h-1zM69 80h2v1h-2zM80 80h1v1h-1zM96 80h1v1h-1zM100 80h4v1h-4zM192 80h1v1h-1zM241 80h1v1h-1zM75 81h3v1h-3zM80 81h1v1h-1zM96 81h1v1h-1zM103 81h1v1h-1zM126 81h1v1h-1zM142 81h1v1h-1zM191 81h4v1h-4zM250 81h1v1h-1zM77 82h1v1h-1zM80 82h1v1h-1zM115 82h2v1h-2zM125 82h1v1h-1zM142 82h1v1h-1zM153 82h2v1h-2zM160 82h1v1h-1zM188 82h3v1h-3zM199 82h1v1h-1zM203 82h1v1h-1zM80 83h1v1h-1zM116 83h1v1h-1zM154 83h1v1h-1zM159 83h2v1h-2zM189 83h2v1h-2zM203 83h2v1h-2zM209 83h1v1h-1zM249 83h1v1h-1zM81 84h1v1h-1zM93 84h3v1h-3zM160 84h2v1h-2zM188 84h2v1h-2zM192 84h1v1h-1zM203 84h2v1h-2zM209 84h2v1h-2zM60 85h1v1h-1zM82 85h1v1h-1zM93 85h3v1h-3zM188 85h2v1h-2zM200 85h1v1h-1zM229 85h2v1h-2zM244 85h1v1h-1zM59 86h2v1h-2zM94 86h1v1h-1zM188 86h1v1h-1zM194 86h1v1h-1zM212 86h1v1h-1zM223 86h2v1h-2zM227 86h1v1h-1zM229 86h1v1h-1zM243 86h2v1h-2zM58 87h4v1h-4zM67 87h2v1h-2zM89 87h1v1h-1zM125 87h1v1h-1zM183 87h2v1h-2zM224 87h4v1h-4zM242 87h2v1h-2zM60 88h1v1h-1zM116 88h1v1h-1zM124 88h2v1h-2zM192 88h1v1h-1zM235 88h2v1h-2zM241 88h3v1h-3zM115 89h1v1h-1zM123 89h2v1h-2zM192 89h2v1h-2zM54 90h1v1h-1zM112 90h3v1h-3zM233 90h2v1h-2zM54 91h2v1h-2zM99 91h1v1h-1zM112 91h3v1h-3zM138 91h1v1h-1zM233 91h2v1h-2zM53 92h4v1h-4zM58 92h1v1h-1zM61 92h3v1h-3zM76 92h5v1h-5zM99 92h1v1h-1zM138 92h1v1h-1zM157 92h2v1h-2zM163 92h1v1h-1zM186 92h1v1h-1zM230 92h1v1h-1zM233 92h2v1h-2zM54 93h3v1h-3zM61 93h2v1h-2zM74 93h3v1h-3zM81 93h1v1h-1zM87 93h2v1h-2zM163 93h1v1h-1zM230 93h2v1h-2zM33 94h1v1h-1zM74 94h2v1h-2zM81 94h1v1h-1zM92 94h1v1h-1zM141 94h1v1h-1zM153 94h3v1h-3zM195 94h1v1h-1zM32 95h3v1h-3zM74 95h2v1h-2zM81 95h1v1h-1zM115 95h1v1h-1zM131 95h1v1h-1zM152 95h3v1h-3zM195 95h1v1h-1zM225 95h1v1h-1zM32 96h2v1h-2zM48 96h1v1h-1zM59 96h1v1h-1zM74 96h3v1h-3zM114 96h2v1h-2zM225 96h2v1h-2zM237 96h1v1h-1zM30 97h2v1h-2zM48 97h2v1h-2zM58 97h2v1h-2zM67 97h1v1h-1zM74 97h2v1h-2zM88 97h5v1h-5zM115 97h1v1h-1zM119 97h2v1h-2zM225 97h4v1h-4zM237 97h1v1h-1zM30 98h1v1h-1zM34 98h1v1h-1zM39 98h1v1h-1zM119 98h1v1h-1zM227 98h1v1h-1zM30 99h1v1h-1zM58 99h1v1h-1zM110 99h1v1h-1zM57 100h2v1h-2zM82 100h5v1h-5zM111 100h1v1h-1zM115 100h1v1h-1zM78 101h2v1h-2zM82 101h3v1h-3zM126 101h1v1h-1zM69 102h2v1h-2zM72 102h3v1h-3zM78 102h2v1h-2zM82 102h1v1h-1zM90 102h1v1h-1zM129 102h1v1h-1zM69 103h1v1h-1zM75 103h1v1h-1zM89 103h1v1h-1zM226 103h1v1h-1zM235 103h2v1h-2zM50 104h1v1h-1zM64 104h3v1h-3zM76 104h3v1h-3zM87 104h2v1h-2zM117 104h1v1h-1zM182 104h1v1h-1zM236 104h1v1h-1zM50 105h1v1h-1zM65 105h2v1h-2zM77 105h1v1h-1zM120 105h2v1h-2zM127 105h1v1h-1zM134 105h1v1h-1zM50 106h6v1h-6zM76 106h2v1h-2zM111 106h1v1h-1zM119 106h3v1h-3zM124 106h1v1h-1zM126 106h3v1h-3zM238 106h1v1h-1zM33 107h3v1h-3zM37 107h2v1h-2zM42 107h1v1h-1zM50 107h5v1h-5zM75 107h2v1h-2zM86 107h1v1h-1zM110 107h3v1h-3zM122 107h2v1h-2zM127 107h5v1h-5zM214 107h1v1h-1zM33 108h1v1h-1zM35 108h2v1h-2zM50 108h1v1h-1zM87 108h1v1h-1zM115 108h1v1h-1zM123 108h2v1h-2zM129 108h3v1h-3zM214 108h2v1h-2zM231 108h1v1h-1zM28 109h1v1h-1zM87 109h1v1h-1zM96 109h1v1h-1zM27 110h2v1h-2zM37 110h1v1h-1zM95 110h1v1h-1zM116 110h1v1h-1zM126 110h1v1h-1zM175 110h3v1h-3zM224 110h1v1h-1zM229 110h1v1h-1zM26 111h3v1h-3zM37 111h2v1h-2zM94 111h1v1h-1zM105 111h1v1h-1zM112 111h6v1h-6zM126 111h3v1h-3zM175 111h4v1h-4zM27 112h3v1h-3zM93 112h1v1h-1zM105 112h1v1h-1zM111 112h5v1h-5zM125 112h4v1h-4zM146 112h1v1h-1zM176 112h3v1h-3zM219 112h3v1h-3zM29 113h2v1h-2zM73 113h1v1h-1zM102 113h1v1h-1zM121 113h4v1h-4zM141 113h1v1h-1zM219 113h2v1h-2zM227 113h1v1h-1zM27 114h3v1h-3zM89 114h2v1h-2zM134 114h1v1h-1zM138 114h3v1h-3zM142 114h3v1h-3zM227 114h1v1h-1zM26 115h2v1h-2zM41 115h2v1h-2zM122 115h4v1h-4zM132 115h3v1h-3zM138 115h3v1h-3zM144 115h1v1h-1zM207 115h1v1h-1zM30 116h1v1h-1zM41 116h2v1h-2zM62 116h1v1h-1zM78 116h1v1h-1zM112 116h2v1h-2zM138 116h2v1h-2zM206 116h1v1h-1zM30 117h1v1h-1zM61 117h2v1h-2zM120 117h1v1h-1zM223 117h1v1h-1zM226 117h3v1h-3zM26 118h1v1h-1zM61 118h2v1h-2zM92 118h2v1h-2zM225 118h3v1h-3zM92 119h2v1h-2zM225 119h1v1h-1zM83 120h1v1h-1zM93 120h2v1h-2zM32 121h1v1h-1zM94 121h1v1h-1zM135 121h3v1h-3zM187 121h1v1h-1zM29 122h1v1h-1zM31 122h2v1h-2zM48 122h1v1h-1zM75 122h2v1h-2zM82 122h1v1h-1zM94 122h2v1h-2zM123 122h1v1h-1zM136 122h1v1h-1zM31 123h3v1h-3zM51 123h2v1h-2zM59 123h3v1h-3zM75 123h2v1h-2zM82 123h1v1h-1zM94 123h4v1h-4zM123 123h1v1h-1zM31 124h3v1h-3zM61 124h1v1h-1zM95 124h2v1h-2zM33 125h1v1h-1zM43 125h1v1h-1zM122 125h1v1h-1zM131 125h2v1h-2zM160 125h5v1h-5zM65 126h1v1h-1zM120 126h3v1h-3zM130 126h4v1h-4zM35 127h1v1h-1zM120 127h2v1h-2zM129 127h5v1h-5zM139 127h2v1h-2zM191 127h1v1h-1zM207 127h1v1h-1zM35 128h1v1h-1zM92 128h3v1h-3zM129 128h2v1h-2zM135 128h7v1h-7zM168 128h2v1h-2zM189 128h1v1h-1zM35 129h1v1h-1zM76 129h1v1h-1zM93 129h3v1h-3zM113 129h3v1h-3zM129 129h2v1h-2zM134 129h4v1h-4zM140 129h3v1h-3zM162 129h2v1h-2zM168 129h1v1h-1zM189 129h2v1h-2zM35 130h2v1h-2zM94 130h2v1h-2zM105 130h2v1h-2zM115 130h1v1h-1zM124 130h1v1h-1zM135 130h1v1h-1zM140 130h2v1h-2zM163 130h1v1h-1zM189 130h2v1h-2zM217 130h2v1h-2zM20 131h1v1h-1zM35 131h3v1h-3zM81 131h1v1h-1zM105 131h2v1h-2zM115 131h1v1h-1zM120 131h1v1h-1zM135 131h1v1h-1zM141 131h1v1h-1zM190 131h1v1h-1zM217 131h2v1h-2zM20 132h1v1h-1zM35 132h3v1h-3zM91 132h1v1h-1zM115 132h1v1h-1zM120 132h4v1h-4zM132 132h3v1h-3zM163 132h1v1h-1zM214 132h1v1h-1zM217 132h2v1h-2zM67 133h2v1h-2zM73 133h4v1h-4zM121 133h1v1h-1zM133 133h3v1h-3zM141 133h1v1h-1zM164 133h1v1h-1zM170 133h1v1h-1zM184 133h2v1h-2zM33 134h1v1h-1zM45 134h1v1h-1zM67 134h1v1h-1zM71 134h1v1h-1zM74 134h3v1h-3zM121 134h1v1h-1zM135 134h1v1h-1zM140 134h1v1h-1zM175 134h2v1h-2zM179 134h2v1h-2zM184 134h2v1h-2zM200 134h1v1h-1zM209 134h1v1h-1zM32 135h2v1h-2zM41 135h2v1h-2zM71 135h1v1h-1zM75 135h2v1h-2zM81 135h4v1h-4zM137 135h4v1h-4zM173 135h3v1h-3zM180 135h1v1h-1zM201 135h2v1h-2zM60 136h5v1h-5zM80 136h4v1h-4zM116 136h2v1h-2zM129 136h1v1h-1zM136 136h5v1h-5zM173 136h2v1h-2zM201 136h1v1h-1zM81 137h2v1h-2zM118 137h1v1h-1zM136 137h5v1h-5zM159 137h1v1h-1zM173 137h2v1h-2zM183 137h1v1h-1zM44 138h1v1h-1zM72 138h1v1h-1zM81 138h1v1h-1zM95 138h1v1h-1zM118 138h1v1h-1zM159 138h6v1h-6zM175 138h1v1h-1zM188 138h1v1h-1zM30 139h1v1h-1zM42 139h3v1h-3zM95 139h1v1h-1zM118 139h2v1h-2zM160 139h1v1h-1zM175 139h1v1h-1zM188 139h1v1h-1zM37 140h3v1h-3zM43 140h2v1h-2zM119 140h2v1h-2zM173 140h1v1h-1zM38 141h3v1h-3zM119 141h2v1h-2zM140 141h3v1h-3zM161 141h1v1h-1zM192 141h1v1h-1zM227 141h1v1h-1zM35 142h1v1h-1zM39 142h1v1h-1zM76 142h1v1h-1zM129 142h1v1h-1zM141 142h1v1h-1zM156 142h3v1h-3zM192 142h2v1h-2zM33 143h3v1h-3zM76 143h1v1h-1zM156 143h3v1h-3zM34 144h2v1h-2zM39 144h1v1h-1zM124 144h1v1h-1zM137 144h2v1h-2zM144 144h2v1h-2zM83 145h1v1h-1zM110 145h1v1h-1zM137 145h1v1h-1zM188 145h1v1h-1zM45 146h2v1h-2zM77 146h1v1h-1zM83 146h1v1h-1zM99 146h1v1h-1zM120 146h2v1h-2zM184 146h1v1h-1zM197 146h1v1h-1zM202 146h1v1h-1zM75 147h3v1h-3zM82 147h3v1h-3zM98 147h1v1h-1zM105 147h3v1h-3zM119 147h3v1h-3zM158 147h1v1h-1zM165 147h1v1h-1zM193 147h4v1h-4zM36 148h1v1h-1zM81 148h3v1h-3zM106 148h2v1h-2zM121 148h1v1h-1zM142 148h2v1h-2zM152 148h1v1h-1zM157 148h2v1h-2zM164 148h3v1h-3zM193 148h1v1h-1zM36 149h1v1h-1zM96 149h2v1h-2zM108 149h1v1h-1zM131 149h1v1h-1zM150 149h1v1h-1zM152 149h2v1h-2zM157 149h1v1h-1zM160 149h7v1h-7zM193 149h1v1h-1zM205 149h2v1h-2zM228 149h1v1h-1zM96 150h1v1h-1zM123 150h3v1h-3zM131 150h1v1h-1zM191 150h3v1h-3zM197 150h1v1h-1zM228 150h1v1h-1zM46 151h2v1h-2zM113 151h3v1h-3zM123 151h3v1h-3zM152 151h1v1h-1zM158 151h3v1h-3zM197 151h1v1h-1zM228 151h2v1h-2zM47 152h1v1h-1zM55 152h1v1h-1zM60 152h2v1h-2zM114 152h1v1h-1zM118 152h2v1h-2zM152 152h1v1h-1zM159 152h3v1h-3zM165 152h2v1h-2zM189 152h1v1h-1zM209 152h1v1h-1zM55 153h2v1h-2zM61 153h1v1h-1zM119 153h1v1h-1zM133 153h1v1h-1zM165 153h1v1h-1zM32 154h1v1h-1zM48 154h1v1h-1zM61 154h2v1h-2zM133 154h1v1h-1zM156 154h2v1h-2zM165 154h1v1h-1zM206 154h5v1h-5zM32 155h2v1h-2zM48 155h1v1h-1zM61 155h2v1h-2zM103 155h1v1h-1zM133 155h3v1h-3zM137 155h1v1h-1zM157 155h2v1h-2zM166 155h1v1h-1zM209 155h2v1h-2zM33 156h2v1h-2zM41 156h1v1h-1zM48 156h1v1h-1zM61 156h3v1h-3zM96 156h1v1h-1zM119 156h1v1h-1zM133 156h4v1h-4zM157 156h3v1h-3zM165 156h3v1h-3zM41 157h1v1h-1zM44 157h1v1h-1zM48 157h1v1h-1zM59 157h3v1h-3zM96 157h1v1h-1zM133 157h3v1h-3zM158 157h1v1h-1zM166 157h1v1h-1zM51 158h1v1h-1zM59 158h2v1h-2zM96 158h2v1h-2zM125 158h2v1h-2zM216 158h1v1h-1zM51 159h1v1h-1zM96 159h3v1h-3zM125 159h2v1h-2zM204 159h4v1h-4zM216 159h3v1h-3zM51 160h2v1h-2zM55 160h2v1h-2zM63 160h1v1h-1zM97 160h3v1h-3zM111 160h1v1h-1zM125 160h2v1h-2zM155 160h2v1h-2zM199 160h3v1h-3zM60 161h3v1h-3zM93 161h2v1h-2zM96 161h3v1h-3zM110 161h2v1h-2zM155 161h2v1h-2zM193 161h1v1h-1zM198 161h2v1h-2zM60 162h2v1h-2zM93 162h6v1h-6zM110 162h1v1h-1zM192 162h4v1h-4zM198 162h1v1h-1zM35 163h2v1h-2zM48 163h1v1h-1zM59 163h2v1h-2zM62 163h2v1h-2zM92 163h2v1h-2zM96 163h3v1h-3zM109 163h2v1h-2zM133 163h4v1h-4zM190 163h6v1h-6zM35 164h2v1h-2zM63 164h2v1h-2zM93 164h1v1h-1zM97 164h2v1h-2zM108 164h2v1h-2zM133 164h3v1h-3zM180 164h1v1h-1zM190 164h3v1h-3zM57 165h1v1h-1zM98 165h1v1h-1zM108 165h2v1h-2zM134 165h1v1h-1zM156 165h3v1h-3zM180 165h1v1h-1zM189 165h4v1h-4zM204 165h5v1h-5zM57 166h2v1h-2zM140 166h1v1h-1zM156 166h4v1h-4zM161 166h2v1h-2zM183 166h2v1h-2zM190 166h1v1h-1zM48 167h1v1h-1zM58 167h1v1h-1zM141 167h1v1h-1zM152 167h1v1h-1zM156 167h2v1h-2zM162 167h1v1h-1zM58 168h1v1h-1zM107 168h3v1h-3zM155 168h3v1h-3zM162 168h1v1h-1zM166 168h1v1h-1zM58 169h3v1h-3zM106 169h1v1h-1zM130 169h1v1h-1zM170 169h3v1h-3zM194 169h2v1h-2zM47 170h6v1h-6zM58 170h3v1h-3zM66 170h1v1h-1zM100 170h2v1h-2zM128 170h3v1h-3zM140 170h1v1h-1zM194 170h3v1h-3zM47 171h3v1h-3zM52 171h3v1h-3zM57 171h4v1h-4zM101 171h1v1h-1zM124 171h1v1h-1zM127 171h5v1h-5zM139 171h2v1h-2zM57 172h1v1h-1zM115 172h1v1h-1zM127 172h1v1h-1zM138 172h3v1h-3zM146 172h1v1h-1zM115 173h2v1h-2zM138 173h2v1h-2zM147 173h3v1h-3zM172 173h2v1h-2zM41 174h2v1h-2zM59 174h1v1h-1zM116 174h2v1h-2zM139 174h2v1h-2zM170 174h1v1h-1zM173 174h6v1h-6zM42 175h1v1h-1zM59 175h3v1h-3zM116 175h1v1h-1zM139 175h1v1h-1zM176 175h3v1h-3zM59 176h2v1h-2zM105 176h2v1h-2zM116 176h1v1h-1zM139 176h1v1h-1zM176 176h3v1h-3zM139 177h2v1h-2zM177 177h4v1h-4zM44 178h1v1h-1zM59 178h1v1h-1zM71 178h2v1h-2zM123 178h1v1h-1zM138 178h3v1h-3zM169 178h1v1h-1zM178 178h2v1h-2zM44 179h2v1h-2zM71 179h2v1h-2zM138 179h3v1h-3zM169 179h1v1h-1zM178 179h2v1h-2zM44 180h2v1h-2zM69 180h4v1h-4zM88 180h1v1h-1zM109 180h2v1h-2zM138 180h1v1h-1zM178 180h1v1h-1zM68 181h6v1h-6zM118 181h4v1h-4zM45 182h1v1h-1zM68 182h3v1h-3zM73 182h2v1h-2zM86 182h1v1h-1zM120 182h2v1h-2zM168 182h1v1h-1zM45 183h4v1h-4zM50 183h2v1h-2zM68 183h3v1h-3zM72 183h2v1h-2zM136 183h2v1h-2zM142 183h1v1h-1zM151 183h1v1h-1zM154 183h1v1h-1zM47 184h5v1h-5zM73 184h1v1h-1zM79 184h1v1h-1zM136 184h2v1h-2zM47 185h2v1h-2zM113 185h1v1h-1zM127 185h1v1h-1zM136 185h2v1h-2zM155 185h3v1h-3zM163 185h2v1h-2zM167 185h1v1h-1zM48 186h1v1h-1zM113 186h2v1h-2zM123 186h2v1h-2zM156 186h2v1h-2zM164 186h1v1h-1zM167 186h3v1h-3zM51 187h1v1h-1zM94 187h1v1h-1zM113 187h2v1h-2zM123 187h2v1h-2zM152 187h5v1h-5zM158 187h1v1h-1zM164 187h1v1h-1zM169 187h2v1h-2zM101 188h3v1h-3zM113 188h3v1h-3zM119 188h4v1h-4zM158 188h1v1h-1zM94 189h1v1h-1zM101 189h3v1h-3zM113 189h3v1h-3zM119 189h3v1h-3zM127 189h1v1h-1zM132 189h1v1h-1zM67 190h2v1h-2zM92 190h5v1h-5zM113 190h5v1h-5zM127 190h1v1h-1zM131 190h1v1h-1zM155 190h3v1h-3zM161 190h2v1h-2zM65 191h3v1h-3zM72 191h2v1h-2zM81 191h1v1h-1zM91 191h2v1h-2zM95 191h2v1h-2zM117 191h1v1h-1zM125 191h3v1h-3zM135 191h1v1h-1zM155 191h3v1h-3zM160 191h4v1h-4zM72 192h1v1h-1zM117 192h1v1h-1zM122 192h5v1h-5zM155 192h3v1h-3zM86 193h2v1h-2zM89 193h1v1h-1zM117 193h1v1h-1zM124 193h1v1h-1zM53 194h3v1h-3zM87 194h3v1h-3zM116 194h1v1h-1zM149 194h2v1h-2zM52 195h1v1h-1zM54 195h2v1h-2zM53 196h2v1h-2zM57 196h1v1h-1zM66 196h1v1h-1zM76 196h2v1h-2zM129 196h1v1h-1zM140 196h2v1h-2zM54 197h1v1h-1zM57 197h1v1h-1zM76 197h2v1h-2zM97 197h1v1h-1zM99 197h3v1h-3zM104 197h1v1h-1zM129 197h2v1h-2zM140 197h2v1h-2zM56 198h2v1h-2zM105 198h1v1h-1zM122 198h2v1h-2zM141 198h2v1h-2zM122 199h1v1h-1zM141 199h1v1h-1zM130 200h2v1h-2zM83 202h1v1h-1zM97 202h1v1h-1zM108 202h6v1h-6zM129 202h1v1h-1zM82 203h2v1h-2zM109 203h1v1h-1zM121 203h1v1h-1zM128 203h2v1h-2zM82 204h2v1h-2zM121 204h1v1h-1zM128 204h2v1h-2zM82 205h1v1h-1zM121 205h1v1h-1zM81 206h3v1h-3zM105 206h1v1h-1zM121 206h1v1h-1zM81 207h3v1h-3zM81 208h2v1h-2zM130 209h3v1h-3zM135 209h1v1h-1zM117 210h1v1h-1zM130 210h6v1h-6zM117 211h1v1h-1zM130 211h2v1h-2zM136 211h2v1h-2zM130 212h1v1h-1zM137 212h2v1h-2zM138 213h1v1h-1zM132 214h1v1h-1zM125 215h1v1h-1zM133 215h1v1h-1zM125 216h2v1h-2zM123 219h1v1h-1zM122 220h2v1h-2zM127 220h1v1h-1z" fill="#6aa40f"/><path d="M190 21h2v1h-2zM194 21h1v1h-1zM244 22h1v1h-1zM244 23h1v1h-1zM273 24h1v1h-1zM181 26h1v1h-1zM206 26h1v1h-1zM223 26h1v1h-1zM175 27h1v1h-1zM205 27h1v1h-1zM223 27h2v1h-2zM187 28h1v1h-1zM223 28h1v1h-1zM175 29h1v1h-1zM178 29h1v1h-1zM188 29h1v1h-1zM223 29h1v1h-1zM189 30h1v1h-1zM223 30h1v1h-1zM204 31h1v1h-1zM270 31h2v1h-2zM197 34h2v1h-2zM195 35h3v1h-3zM255 36h1v1h-1zM158 37h1v1h-1zM159 38h1v1h-1zM168 38h1v1h-1zM172 41h1v1h-1zM253 41h3v1h-3zM161 45h3v1h-3zM164 46h1v1h-1zM127 47h1v1h-1zM164 47h1v1h-1zM164 48h1v1h-1zM239 48h1v1h-1zM227 49h1v1h-1zM246 49h1v1h-1zM227 50h1v1h-1zM182 51h2v1h-2zM170 52h1v1h-1zM239 54h1v1h-1zM207 56h1v1h-1zM203 57h1v1h-1zM237 58h1v1h-1zM111 59h1v1h-1zM115 59h1v1h-1zM237 59h1v1h-1zM241 59h1v1h-1zM110 60h2v1h-2zM115 60h1v1h-1zM241 62h1v1h-1zM244 65h2v1h-2zM241 66h1v1h-1zM241 67h1v1h-1zM114 69h1v1h-1zM109 71h1v1h-1zM125 71h1v1h-1zM110 72h2v1h-2zM125 72h1v1h-1zM124 73h2v1h-2zM233 74h1v1h-1zM218 76h1v1h-1zM63 77h1v1h-1zM215 77h1v1h-1zM218 77h1v1h-1zM212 78h1v1h-1zM221 81h1v1h-1zM132 84h1v1h-1zM130 85h3v1h-3zM164 85h4v1h-4zM178 85h2v1h-2zM164 86h1v1h-1zM132 87h1v1h-1zM141 88h1v1h-1zM132 89h1v1h-1zM141 89h1v1h-1zM133 91h2v1h-2zM154 93h3v1h-3zM183 97h1v1h-1zM189 97h1v1h-1zM195 98h2v1h-2zM196 99h1v1h-1zM201 99h2v1h-2zM174 100h1v1h-1zM166 102h1v1h-1zM187 102h1v1h-1zM187 103h2v1h-2zM225 103h1v1h-1zM208 104h1v1h-1zM60 105h1v1h-1zM154 108h1v1h-1zM154 109h1v1h-1zM196 111h2v1h-2zM160 112h2v1h-2zM196 114h1v1h-1zM196 116h1v1h-1zM159 117h4v1h-4zM175 117h1v1h-1zM196 117h1v1h-1zM40 121h1v1h-1zM219 123h1v1h-1zM105 124h2v1h-2zM191 124h2v1h-2zM106 125h1v1h-1zM106 126h1v1h-1zM181 127h1v1h-1zM181 129h1v1h-1zM144 134h1v1h-1zM106 135h1v1h-1zM135 141h2v1h-2zM185 141h2v1h-2zM176 158h1v1h-1zM174 160h1v1h-1zM40 176h1v1h-1zM57 178h1v1h-1zM57 179h1v1h-1zM63 179h1v1h-1zM63 180h1v1h-1zM138 183h1v1h-1zM138 184h1v1h-1zM138 187h3v1h-3zM143 190h4v1h-4z" fill="#fa5a28"/></g>
</g>
<polygon points="231.1,53.1 235.1,50.1 240.1,48.1 245.2,49.1 248.2,53.1 250.2,57.2 253.2,55.2 258.2,52.1 264.3,49.1 270.3,47.1 273.3,43.1 276.3,38.0 280.4,37.0 286.4,39.1 291.4,40.1 295.5,41.1 299.5,38.0 303.5,35.0 308.5,33.6 314.6,35.0 320.0,37.0 320.0,38.1 325.0,40.2 330.1,42.2 335.1,45.2 338.1,41.2 340.1,35.1 343.1,30.1 348.2,29.1 353.2,26.1 356.2,22.0 358.2,25.1 360.2,29.1 363.3,34.1 367.3,39.1 370.3,43.2 374.3,46.2 380.4,47.2 386.4,47.2 390.4,45.2 394.4,44.2 396.5,48.2 398.5,54.2 400.5,60.3 402.5,66.3 403.5,73.4 404.5,80.4 405.5,87.4 407.5,93.5 409.5,97.5 408.5,100.5 404.5,101.5 400.5,104.5 396.5,107.6 392.4,110.6 388.4,115.0 387.4,115.0 382.4,117.0 379.4,116.0 377.3,120.1 374.3,125.1 370.3,130.1 365.3,134.1 359.2,135.2 356.2,139.2 355.2,143.2 357.2,147.2 354.2,150.2 350.2,152.3 350.2,157.3 347.2,163.3 343.1,169.4 340.1,174.4 339.1,179.4 340.1,185.5 337.1,190.5 334.1,195.5 333.1,201.5 332.1,210.0 331.4,214.1 332.4,220.1 334.4,226.2 334.4,229.2 330.4,230.2 326.3,232.2 322.3,234.2 319.3,238.2 318.3,243.3 315.3,246.3 310.2,248.3 305.2,249.3 300.2,248.3 294.1,250.3 289.1,253.3 285.1,256.3 281.1,259.4 277.0,262.4 273.0,265.4 270.0,267.4 269.5,267.2 265.5,271.2 263.5,277.3 261.5,283.3 259.5,287.3 255.5,290.4 251.4,290.4 248.4,287.3 242.4,285.3 237.3,287.3 232.3,289.4 227.3,288.4 223.3,290.4 219.2,288.4 216.2,290.4 214.2,295.4 212.2,300.4 210.2,305.5 212.2,309.5 214.2,312.5 211.2,315.5 207.2,317.5 204.1,314.5 200.1,313.5 195.1,315.5 194.1,319.5 192.1,323.6 188.0,323.6 186.0,318.5 183.0,315.5 180.0,313.5 180.5,316.5 176.5,319.5 173.5,317.5 174.5,313.5 176.5,310.5 173.5,307.5 167.5,305.5 160.4,305.5 154.4,304.4 148.4,303.4 142.3,304.4 136.3,303.4 130.2,304.4 125.2,302.4 122.2,297.4 118.2,294.4 112.1,293.4 106.1,294.0 100.1,293.4 96.0,290.4 92.0,287.3 90.0,286.3 90.4,287.5 84.3,284.5 79.3,281.5 75.3,277.5 70.2,274.4 64.2,272.4 58.2,272.4 54.1,269.4 52.1,264.4 55.2,259.4 56.2,254.3 55.2,248.3 55.2,243.3 53.1,237.2 50.1,232.2 46.1,227.2 44.1,222.1 46.1,217.1 48.1,212.1 47.1,206.0 46.1,200.0 47.1,197.5 45.1,191.4 44.1,185.4 43.1,181.4 47.1,178.4 50.1,173.3 49.1,169.3 45.1,166.3 46.1,161.2 47.1,156.2 49.1,151.2 52.1,145.2 58.2,142.1 65.2,139.1 70.2,135.1 75.3,131.1 80.3,128.0 85.3,125.0 89.4,122.0 94.3,118.4 102.4,109.3 114.4,105.3 124.5,101.2 124.8,99.6 129.7,95.6 133.7,90.7 127.2,88.3 126.4,83.5 125.6,78.6 129.7,74.6 134.5,69.8 139.3,65.8 142.5,61.7 146.6,59.3 149.8,60.9 152.2,64.2 157.8,64.2 161.1,66.6 163.5,69.0 168.3,65.8 172.3,67.4 173.1,70.6 180.4,69.0 182.0,65.8 179.6,61.7 182.0,56.9 186.0,52.9 190.9,49.7 195.7,47.2 200.0,46.4 200.2,47.1 208.2,44.1 213.3,47.1 217.3,50.1 223.3,52.1 224.3,48.1 227.3,49.1 228.4,56.2 229.4,60.2" fill="none" stroke="#333" stroke-width="0.4" stroke-opacity="0.45" stroke-linejoin="round"/>
</g>
<polygon points="323.9,245.3 326.7,244.7 327.9,248.3 325.3,249.7" fill="#6aa40f"/>
<polygon points="156.4,311.5 158.4,311.5 158.8,314.1 156.4,314.1" fill="#6aa40f"/>
</g>
<g id="frame">
<rect x="19.0" y="17.6" width="447.6" height="308.09999999999997" fill="none" stroke="#000" stroke-width="1.5"/>
<line x1="101" y1="13.600000000000001" x2="101" y2="17.6" stroke="#000" stroke-width="1"/>
<line x1="101" y1="325.7" x2="101" y2="330.2" stroke="#000" stroke-width="1"/>
<text x="101.5" y="11.3" font-size="8.7" text-anchor="middle" fill="#111">109°0'0"E</text>
<text x="101.5" y="339.6" font-size="8.7" text-anchor="middle" fill="#111">109°0'0"E</text>
<line x1="253" y1="13.600000000000001" x2="253" y2="17.6" stroke="#000" stroke-width="1"/>
<line x1="253" y1="325.7" x2="253" y2="330.2" stroke="#000" stroke-width="1"/>
<text x="253.5" y="11.3" font-size="8.7" text-anchor="middle" fill="#111">110°0'0"E</text>
<text x="253.5" y="339.6" font-size="8.7" text-anchor="middle" fill="#111">110°0'0"E</text>
<line x1="404.6" y1="13.600000000000001" x2="404.6" y2="17.6" stroke="#000" stroke-width="1"/>
<line x1="404.6" y1="325.7" x2="404.6" y2="330.2" stroke="#000" stroke-width="1"/>
<text x="405.1" y="11.3" font-size="8.7" text-anchor="middle" fill="#111">111°0'0"E</text>
<text x="405.1" y="339.6" font-size="8.7" text-anchor="middle" fill="#111">111°0'0"E</text>
<line x1="14.0" y1="46.5" x2="19.0" y2="46.5" stroke="#000" stroke-width="1"/>
<line x1="466.6" y1="46.5" x2="471.1" y2="46.5" stroke="#000" stroke-width="1"/>
<text transform="translate(11.8,46.5) rotate(-90)" font-size="8.7" text-anchor="middle" fill="#111">20°0'0"N</text>
<text transform="translate(480,46.5) rotate(-90)" font-size="8.7" text-anchor="middle" fill="#111">20°0'0"N</text>
<line x1="14.0" y1="197.8" x2="19.0" y2="197.8" stroke="#000" stroke-width="1"/>
<line x1="466.6" y1="197.8" x2="471.1" y2="197.8" stroke="#000" stroke-width="1"/>
<text transform="translate(11.8,197.8) rotate(-90)" font-size="8.7" text-anchor="middle" fill="#111">19°0'0"N</text>
<text transform="translate(480,197.8) rotate(-90)" font-size="8.7" text-anchor="middle" fill="#111">19°0'0"N</text>
<text x="448" y="37" font-size="16" text-anchor="middle" fill="#111">(a)</text>
<g fill="#777"><rect x="443" y="51" width="1.6" height="1"/><rect x="445" y="49" width="1.4" height="1"/><rect x="434.3" y="59.5" width="1.4" height="1.2"/></g>
<g stroke="#000" fill="#000"><polygon points="48.199999999999996,41.8 49.8,35.0 51.4,41.8" stroke="none"/><polygon points="48.199999999999996,52.8 49.8,59.599999999999994 51.4,52.8" stroke="none"/><polygon points="44.3,45.699999999999996 37.5,47.3 44.3,48.9" stroke="none"/><polygon points="55.3,45.699999999999996 62.099999999999994,47.3 55.3,48.9" stroke="none"/><circle cx="49.8" cy="47.3" r="6.2" fill="#fff" stroke-width="1.3"/></g>
<text x="49.8" y="31.999999999999996" font-size="5.3" text-anchor="middle" fill="#333">N</text>
<text x="49.8" y="66.8" font-size="5.3" text-anchor="middle" fill="#333">S</text>
<text x="33.3" y="49.199999999999996" font-size="5.3" text-anchor="middle" fill="#333">W</text>
<text x="66.3" y="49.199999999999996" font-size="5.3" text-anchor="middle" fill="#333">E</text>
<rect x="40" y="318.3" width="82.3" height="4.2" fill="#000"/>
<rect x="61" y="319.2" width="20.3" height="2.4" fill="#fff"/>
<text x="40.3" y="315" font-size="8.5" text-anchor="middle" fill="#111">0</text>
<text x="61" y="315" font-size="8.5" text-anchor="middle" fill="#111">15</text>
<text x="81.5" y="315" font-size="8.5" text-anchor="middle" fill="#111">30</text>
<text x="122" y="315" font-size="8.5" text-anchor="middle" fill="#111">60</text>
<text x="124" y="323" font-size="8.5" fill="#111">Km</text>
<rect x="362.6" y="250" width="103.3" height="75" fill="#fff" stroke="#8a8a8a" stroke-width="1"/>
<text x="367.5" y="262.3" font-size="8.0" font-weight="bold" fill="#111">Temperature change (°C)</text>
<rect x="366.5" y="267.70" width="21.5" height="10.2" fill="#15795a" stroke="#6b6b6b" stroke-width="0.7"/>
<text x="392" y="275.40" font-size="8.05" fill="#111">- 4.48 - - 2.24</text>
<rect x="366.5" y="281.95" width="21.5" height="10.2" fill="#6aa40f" stroke="#6b6b6b" stroke-width="0.7"/>
<text x="392" y="289.65" font-size="8.05" fill="#111">- 2.24 - 0</text>
<rect x="366.5" y="296.20" width="21.5" height="10.2" fill="#fbab82" stroke="#6b6b6b" stroke-width="0.7"/>
<text x="392" y="303.90" font-size="8.05" fill="#111">0 - 2.0</text>
<rect x="366.5" y="310.45" width="21.5" height="10.2" fill="#fa5a28" stroke="#6b6b6b" stroke-width="0.7"/>
<text x="392" y="318.15" font-size="8.05" fill="#111">2.0- 4.66</text>
</g>
<g id="chart">
<line x1="35.0" y1="511.90" x2="482.0" y2="511.90" stroke="#dcdcdc" stroke-width="1"/>
<line x1="35.0" y1="504.36" x2="482.0" y2="504.36" stroke="#ececec" stroke-width="1"/>
<line x1="35.0" y1="496.82" x2="482.0" y2="496.82" stroke="#dcdcdc" stroke-width="1"/>
<line x1="35.0" y1="489.28" x2="482.0" y2="489.28" stroke="#ececec" stroke-width="1"/>
<line x1="35.0" y1="481.74" x2="482.0" y2="481.74" stroke="#dcdcdc" stroke-width="1"/>
<line x1="35.0" y1="474.21" x2="482.0" y2="474.21" stroke="#ececec" stroke-width="1"/>
<line x1="35.0" y1="466.67" x2="482.0" y2="466.67" stroke="#dcdcdc" stroke-width="1"/>
<line x1="35.0" y1="459.13" x2="482.0" y2="459.13" stroke="#ececec" stroke-width="1"/>
<line x1="35.0" y1="451.59" x2="482.0" y2="451.59" stroke="#dcdcdc" stroke-width="1"/>
<line x1="35.0" y1="444.05" x2="482.0" y2="444.05" stroke="#ececec" stroke-width="1"/>
<line x1="35.0" y1="436.51" x2="482.0" y2="436.51" stroke="#dcdcdc" stroke-width="1"/>
<line x1="35.0" y1="428.97" x2="482.0" y2="428.97" stroke="#ececec" stroke-width="1"/>
<line x1="35.0" y1="421.43" x2="482.0" y2="421.43" stroke="#dcdcdc" stroke-width="1"/>
<line x1="35.0" y1="413.89" x2="482.0" y2="413.89" stroke="#ececec" stroke-width="1"/>
<line x1="35.0" y1="406.36" x2="482.0" y2="406.36" stroke="#dcdcdc" stroke-width="1"/>
<line x1="35.0" y1="398.82" x2="482.0" y2="398.82" stroke="#ececec" stroke-width="1"/>
<line x1="35.0" y1="391.28" x2="482.0" y2="391.28" stroke="#dcdcdc" stroke-width="1"/>
<line x1="35.0" y1="383.74" x2="482.0" y2="383.74" stroke="#ececec" stroke-width="1"/>
<line x1="35.0" y1="376.20" x2="482.0" y2="376.20" stroke="#dcdcdc" stroke-width="1"/>
<line x1="61.31" y1="376.2" x2="61.31" y2="511.9" stroke="#ebebeb" stroke-width="1"/>
<line x1="87.64" y1="376.2" x2="87.64" y2="511.9" stroke="#d6d6d6" stroke-width="1"/>
<line x1="87.64" y1="511.9" x2="87.64" y2="514.4" stroke="#333" stroke-width="1"/>
<line x1="113.97" y1="376.2" x2="113.97" y2="511.9" stroke="#ebebeb" stroke-width="1"/>
<line x1="140.31" y1="376.2" x2="140.31" y2="511.9" stroke="#d6d6d6" stroke-width="1"/>
<line x1="140.31" y1="511.9" x2="140.31" y2="514.4" stroke="#333" stroke-width="1"/>
<line x1="166.63" y1="376.2" x2="166.63" y2="511.9" stroke="#ebebeb" stroke-width="1"/>
<line x1="192.97" y1="376.2" x2="192.97" y2="511.9" stroke="#d6d6d6" stroke-width="1"/>
<line x1="192.97" y1="511.9" x2="192.97" y2="514.4" stroke="#333" stroke-width="1"/>
<line x1="219.29" y1="376.2" x2="219.29" y2="511.9" stroke="#ebebeb" stroke-width="1"/>
<line x1="245.62" y1="376.2" x2="245.62" y2="511.9" stroke="#d6d6d6" stroke-width="1"/>
<line x1="245.62" y1="511.9" x2="245.62" y2="514.4" stroke="#333" stroke-width="1"/>
<line x1="271.95" y1="376.2" x2="271.95" y2="511.9" stroke="#ebebeb" stroke-width="1"/>
<line x1="298.28" y1="376.2" x2="298.28" y2="511.9" stroke="#d6d6d6" stroke-width="1"/>
<line x1="298.28" y1="511.9" x2="298.28" y2="514.4" stroke="#333" stroke-width="1"/>
<line x1="324.61" y1="376.2" x2="324.61" y2="511.9" stroke="#ebebeb" stroke-width="1"/>
<line x1="350.94" y1="376.2" x2="350.94" y2="511.9" stroke="#d6d6d6" stroke-width="1"/>
<line x1="350.94" y1="511.9" x2="350.94" y2="514.4" stroke="#333" stroke-width="1"/>
<line x1="377.27" y1="376.2" x2="377.27" y2="511.9" stroke="#ebebeb" stroke-width="1"/>
<line x1="403.60" y1="376.2" x2="403.60" y2="511.9" stroke="#d6d6d6" stroke-width="1"/>
<line x1="403.60" y1="511.9" x2="403.60" y2="514.4" stroke="#333" stroke-width="1"/>
<line x1="429.93" y1="376.2" x2="429.93" y2="511.9" stroke="#ebebeb" stroke-width="1"/>
<line x1="456.26" y1="376.2" x2="456.26" y2="511.9" stroke="#d6d6d6" stroke-width="1"/>
<line x1="456.26" y1="511.9" x2="456.26" y2="514.4" stroke="#333" stroke-width="1"/>
<line x1="482.59" y1="376.2" x2="482.59" y2="511.9" stroke="#ebebeb" stroke-width="1"/>
<rect x="40.85" y="430.86" width="14.6" height="81.04" fill="#5b9bd5"/>
<rect x="67.18" y="455.74" width="14.6" height="56.16" fill="#5b9bd5"/>
<rect x="93.51" y="466.67" width="14.6" height="45.23" fill="#5b9bd5"/>
<rect x="119.84" y="445.11" width="14.6" height="66.79" fill="#5b9bd5"/>
<rect x="146.17" y="464.03" width="14.6" height="47.87" fill="#5b9bd5"/>
<rect x="172.50" y="435.38" width="14.6" height="76.52" fill="#5b9bd5"/>
<rect x="198.83" y="405.60" width="14.6" height="106.30" fill="#5b9bd5"/>
<rect x="225.16" y="428.97" width="14.6" height="82.93" fill="#5b9bd5"/>
<rect x="251.49" y="457.24" width="14.6" height="54.66" fill="#5b9bd5"/>
<rect x="277.82" y="463.27" width="14.6" height="48.63" fill="#5b9bd5"/>
<rect x="304.15" y="458.37" width="14.6" height="53.53" fill="#5b9bd5"/>
<rect x="330.48" y="484.99" width="14.6" height="26.91" fill="#5b9bd5"/>
<rect x="356.81" y="438.02" width="14.6" height="73.88" fill="#5b9bd5"/>
<rect x="383.14" y="441.03" width="14.6" height="70.87" fill="#5b9bd5"/>
<rect x="409.47" y="450.08" width="14.6" height="61.82" fill="#5b9bd5"/>
<rect x="435.80" y="383.74" width="14.6" height="128.16" fill="#5b9bd5"/>
<rect x="462.13" y="401.08" width="14.6" height="110.82" fill="#5b9bd5"/>
<line x1="35.0" y1="375.7" x2="35.0" y2="512.4" stroke="#333" stroke-width="1.2"/>
<line x1="34.5" y1="511.9" x2="482.0" y2="511.9" stroke="#333" stroke-width="1.2"/>
<line x1="32.5" y1="511.90" x2="35.0" y2="511.90" stroke="#333" stroke-width="1"/>
<text x="31.0" y="514.20" font-size="6.5" text-anchor="end" fill="#222">27.0</text>
<line x1="32.5" y1="496.82" x2="35.0" y2="496.82" stroke="#333" stroke-width="1"/>
<text x="31.0" y="499.12" font-size="6.5" text-anchor="end" fill="#222">27.2</text>
<line x1="32.5" y1="481.74" x2="35.0" y2="481.74" stroke="#333" stroke-width="1"/>
<text x="31.0" y="484.04" font-size="6.5" text-anchor="end" fill="#222">27.4</text>
<line x1="32.5" y1="466.67" x2="35.0" y2="466.67" stroke="#333" stroke-width="1"/>
<text x="31.0" y="468.97" font-size="6.5" text-anchor="end" fill="#222">27.6</text>
<line x1="32.5" y1="451.59" x2="35.0" y2="451.59" stroke="#333" stroke-width="1"/>
<text x="31.0" y="453.89" font-size="6.5" text-anchor="end" fill="#222">27.8</text>
<line x1="32.5" y1="436.51" x2="35.0" y2="436.51" stroke="#333" stroke-width="1"/>
<text x="31.0" y="438.81" font-size="6.5" text-anchor="end" fill="#222">28.0</text>
<line x1="32.5" y1="421.43" x2="35.0" y2="421.43" stroke="#333" stroke-width="1"/>
<text x="31.0" y="423.73" font-size="6.5" text-anchor="end" fill="#222">28.2</text>
<line x1="32.5" y1="406.36" x2="35.0" y2="406.36" stroke="#333" stroke-width="1"/>
<text x="31.0" y="408.66" font-size="6.5" text-anchor="end" fill="#222">28.4</text>
<line x1="32.5" y1="391.28" x2="35.0" y2="391.28" stroke="#333" stroke-width="1"/>
<text x="31.0" y="393.58" font-size="6.5" text-anchor="end" fill="#222">28.6</text>
<line x1="32.5" y1="376.20" x2="35.0" y2="376.20" stroke="#333" stroke-width="1"/>
<text x="31.0" y="378.50" font-size="6.5" text-anchor="end" fill="#222">28.8</text>
<text x="48.15" y="522" font-size="6.5" text-anchor="middle" fill="#222">2000</text>
<text x="100.81" y="522" font-size="6.5" text-anchor="middle" fill="#222">2002</text>
<text x="153.47" y="522" font-size="6.5" text-anchor="middle" fill="#222">2004</text>
<text x="206.13" y="522" font-size="6.5" text-anchor="middle" fill="#222">2006</text>
<text x="258.79" y="522" font-size="6.5" text-anchor="middle" fill="#222">2008</text>
<text x="311.45" y="522" font-size="6.5" text-anchor="middle" fill="#222">2010</text>
<text x="364.11" y="522" font-size="6.5" text-anchor="middle" fill="#222">2012</text>
<text x="416.77" y="522" font-size="6.5" text-anchor="middle" fill="#222">2014</text>
<text x="469.43" y="522" font-size="6.5" text-anchor="middle" fill="#222">2016</text>
<text x="258.6" y="533.3" font-size="8.2" font-weight="bold" text-anchor="middle" fill="#111">Year</text>
<text transform="translate(13.2,445) rotate(-90)" font-size="8.6" font-weight="bold" text-anchor="middle" fill="#111">Temperature (°C)</text>
<text x="475.5" y="391.5" font-size="12" text-anchor="middle" fill="#555">(b)</text>
<line x1="3" y1="542.2" x2="490" y2="542.3" stroke="#e4e4e4" stroke-width="1.2"/>
<line x1="490" y1="365" x2="490" y2="542.5" stroke="#e9e9e9" stroke-width="1.2"/>
</g>
</svg>
</body></html>
